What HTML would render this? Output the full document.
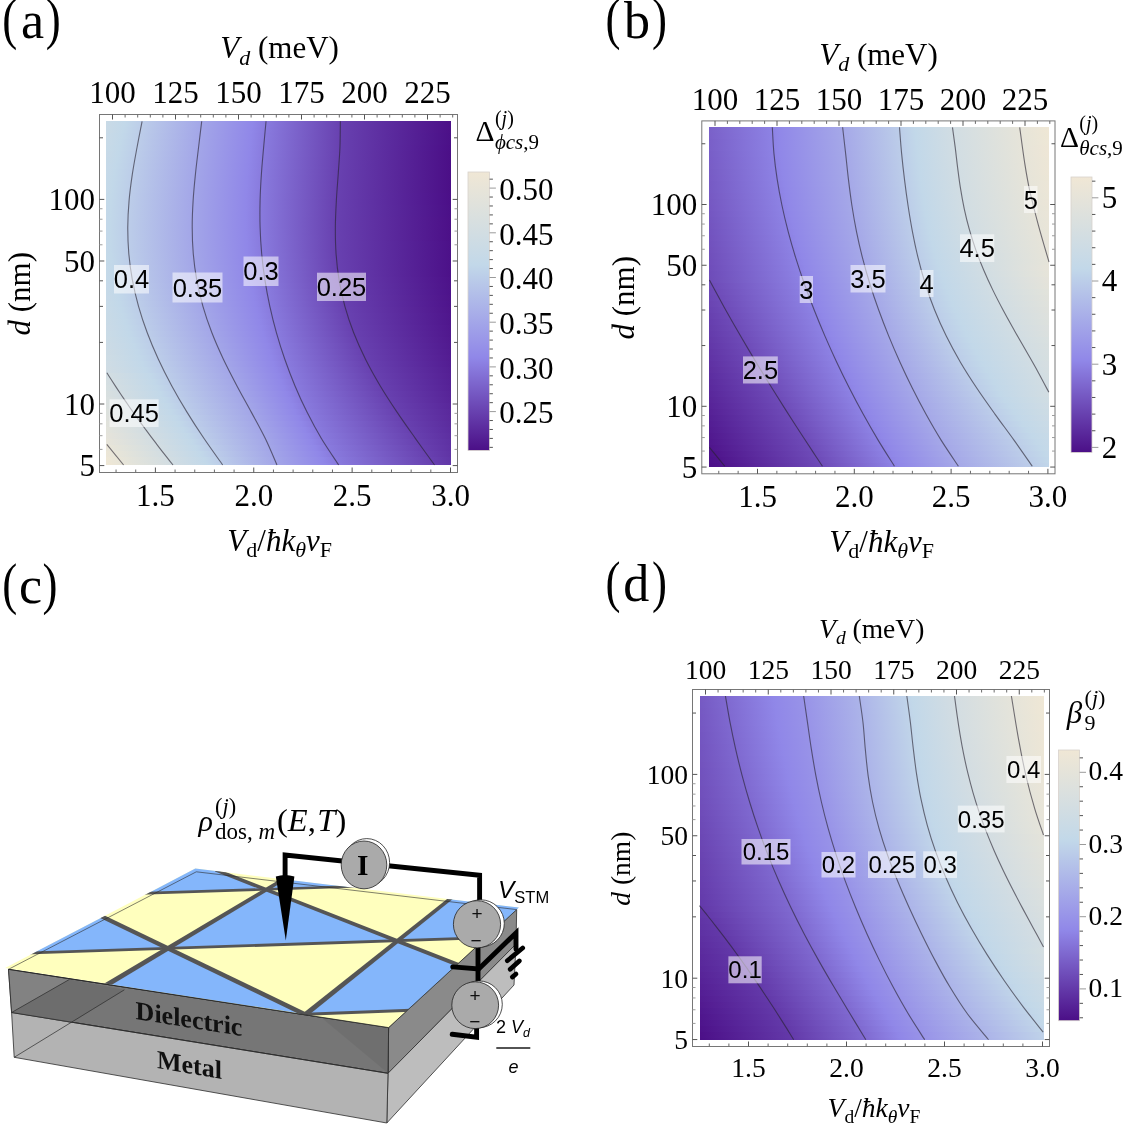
<!DOCTYPE html>
<html><head><meta charset="utf-8"><title>Figure</title>
<style>html,body{margin:0;padding:0;background:#fff}svg{display:block}text{font-family:"Liberation Serif","DejaVu Serif",serif}text.s,.s text{font-family:"Liberation Sans","DejaVu Sans",sans-serif}</style>
</head><body>
<svg width="1125" height="1125" viewBox="0 0 1125 1125">
<defs><linearGradient id="a0"><stop offset="0.000" stop-color="#c9dae6"/><stop offset="0.054" stop-color="#c2d8e9"/><stop offset="0.103" stop-color="#bccde9"/><stop offset="0.277" stop-color="#a3a6e8"/><stop offset="0.425" stop-color="#9087e8"/><stop offset="0.464" stop-color="#897bde"/><stop offset="0.680" stop-color="#6841b0"/><stop offset="1.000" stop-color="#4c1088"/></linearGradient>
<linearGradient id="a1"><stop offset="0.000" stop-color="#c9dae6"/><stop offset="0.050" stop-color="#c2d8e9"/><stop offset="0.100" stop-color="#bccde9"/><stop offset="0.275" stop-color="#a3a6e8"/><stop offset="0.423" stop-color="#9087e8"/><stop offset="0.462" stop-color="#897bde"/><stop offset="0.680" stop-color="#6841b0"/><stop offset="1.000" stop-color="#4c1088"/></linearGradient>
<linearGradient id="a2"><stop offset="0.000" stop-color="#c8dae7"/><stop offset="0.046" stop-color="#c2d8e9"/><stop offset="0.096" stop-color="#bccde9"/><stop offset="0.273" stop-color="#a3a6e8"/><stop offset="0.421" stop-color="#9087e8"/><stop offset="0.460" stop-color="#897bde"/><stop offset="0.680" stop-color="#6841b0"/><stop offset="1.000" stop-color="#4b1088"/></linearGradient>
<linearGradient id="a3"><stop offset="0.000" stop-color="#c8dae7"/><stop offset="0.042" stop-color="#c2d8e9"/><stop offset="0.093" stop-color="#bccde9"/><stop offset="0.270" stop-color="#a3a6e8"/><stop offset="0.420" stop-color="#9087e8"/><stop offset="0.459" stop-color="#897bde"/><stop offset="0.679" stop-color="#6841b0"/><stop offset="1.000" stop-color="#4b1088"/></linearGradient>
<linearGradient id="a4"><stop offset="0.000" stop-color="#c7dae7"/><stop offset="0.039" stop-color="#c2d8e9"/><stop offset="0.090" stop-color="#bccde9"/><stop offset="0.268" stop-color="#a3a6e8"/><stop offset="0.418" stop-color="#9087e8"/><stop offset="0.457" stop-color="#897bde"/><stop offset="0.679" stop-color="#6841b0"/><stop offset="1.000" stop-color="#4b0f88"/></linearGradient>
<linearGradient id="a5"><stop offset="0.000" stop-color="#c7d9e7"/><stop offset="0.035" stop-color="#c2d8e9"/><stop offset="0.086" stop-color="#bccde9"/><stop offset="0.266" stop-color="#a3a6e8"/><stop offset="0.416" stop-color="#9087e8"/><stop offset="0.456" stop-color="#897bde"/><stop offset="0.678" stop-color="#6841b0"/><stop offset="1.000" stop-color="#4b0f87"/></linearGradient>
<linearGradient id="a6"><stop offset="0.000" stop-color="#c6d9e7"/><stop offset="0.032" stop-color="#c2d8e9"/><stop offset="0.083" stop-color="#bccde9"/><stop offset="0.264" stop-color="#a3a6e8"/><stop offset="0.415" stop-color="#9087e8"/><stop offset="0.454" stop-color="#897bde"/><stop offset="0.677" stop-color="#6841b0"/><stop offset="1.000" stop-color="#4b0f87"/></linearGradient>
<linearGradient id="a7"><stop offset="0.000" stop-color="#c6d9e8"/><stop offset="0.029" stop-color="#c2d8e9"/><stop offset="0.080" stop-color="#bccde9"/><stop offset="0.262" stop-color="#a3a6e8"/><stop offset="0.413" stop-color="#9087e8"/><stop offset="0.453" stop-color="#897bde"/><stop offset="0.676" stop-color="#6841b0"/><stop offset="1.000" stop-color="#4b0f87"/></linearGradient>
<linearGradient id="a8"><stop offset="0.000" stop-color="#c6d9e8"/><stop offset="0.025" stop-color="#c2d8e9"/><stop offset="0.077" stop-color="#bccde9"/><stop offset="0.260" stop-color="#a3a6e8"/><stop offset="0.412" stop-color="#9087e8"/><stop offset="0.451" stop-color="#897bde"/><stop offset="0.674" stop-color="#6841b0"/><stop offset="1.000" stop-color="#4b0f87"/></linearGradient>
<linearGradient id="a9"><stop offset="0.000" stop-color="#c5d9e8"/><stop offset="0.023" stop-color="#c2d8e9"/><stop offset="0.075" stop-color="#bccde9"/><stop offset="0.258" stop-color="#a3a6e8"/><stop offset="0.410" stop-color="#9087e8"/><stop offset="0.450" stop-color="#897bde"/><stop offset="0.673" stop-color="#6841b0"/><stop offset="1.000" stop-color="#4b0f87"/></linearGradient>
<linearGradient id="a10"><stop offset="0.000" stop-color="#c5d9e8"/><stop offset="0.020" stop-color="#c2d8e9"/><stop offset="0.073" stop-color="#bccde9"/><stop offset="0.257" stop-color="#a3a6e8"/><stop offset="0.409" stop-color="#9087e8"/><stop offset="0.449" stop-color="#897bde"/><stop offset="0.672" stop-color="#6841b0"/><stop offset="1.000" stop-color="#4b0f87"/></linearGradient>
<linearGradient id="a11"><stop offset="0.000" stop-color="#c5d9e8"/><stop offset="0.018" stop-color="#c2d8e9"/><stop offset="0.071" stop-color="#bccde9"/><stop offset="0.255" stop-color="#a3a6e8"/><stop offset="0.408" stop-color="#9087e8"/><stop offset="0.449" stop-color="#897bde"/><stop offset="0.671" stop-color="#6841b0"/><stop offset="1.000" stop-color="#4b0f87"/></linearGradient>
<linearGradient id="a12"><stop offset="0.000" stop-color="#c4d9e8"/><stop offset="0.016" stop-color="#c2d8e9"/><stop offset="0.068" stop-color="#bccde9"/><stop offset="0.254" stop-color="#a3a6e8"/><stop offset="0.407" stop-color="#9087e8"/><stop offset="0.448" stop-color="#897bde"/><stop offset="0.670" stop-color="#6841b0"/><stop offset="1.000" stop-color="#4b0f88"/></linearGradient>
<linearGradient id="a13"><stop offset="0.000" stop-color="#c4d9e8"/><stop offset="0.014" stop-color="#c2d8e9"/><stop offset="0.067" stop-color="#bccde9"/><stop offset="0.253" stop-color="#a3a6e8"/><stop offset="0.407" stop-color="#9087e8"/><stop offset="0.447" stop-color="#897bde"/><stop offset="0.668" stop-color="#6841b0"/><stop offset="1.000" stop-color="#4b0f88"/></linearGradient>
<linearGradient id="a14"><stop offset="0.000" stop-color="#c4d8e8"/><stop offset="0.013" stop-color="#c2d8e9"/><stop offset="0.066" stop-color="#bccde9"/><stop offset="0.252" stop-color="#a3a6e8"/><stop offset="0.407" stop-color="#9087e8"/><stop offset="0.447" stop-color="#897bde"/><stop offset="0.668" stop-color="#6841b0"/><stop offset="1.000" stop-color="#4b1088"/></linearGradient>
<linearGradient id="a15"><stop offset="0.000" stop-color="#c4d8e8"/><stop offset="0.012" stop-color="#c2d8e9"/><stop offset="0.065" stop-color="#bccde9"/><stop offset="0.251" stop-color="#a3a6e8"/><stop offset="0.406" stop-color="#9087e8"/><stop offset="0.447" stop-color="#897bde"/><stop offset="0.667" stop-color="#6841b0"/><stop offset="1.000" stop-color="#4b1088"/></linearGradient>
<linearGradient id="a16"><stop offset="0.000" stop-color="#c4d8e9"/><stop offset="0.011" stop-color="#c2d8e9"/><stop offset="0.064" stop-color="#bccde9"/><stop offset="0.251" stop-color="#a3a6e8"/><stop offset="0.406" stop-color="#9087e8"/><stop offset="0.447" stop-color="#897bde"/><stop offset="0.666" stop-color="#6841b0"/><stop offset="1.000" stop-color="#4c1088"/></linearGradient>
<linearGradient id="a17"><stop offset="0.000" stop-color="#c4d8e9"/><stop offset="0.010" stop-color="#c2d8e9"/><stop offset="0.063" stop-color="#bccde9"/><stop offset="0.250" stop-color="#a3a6e8"/><stop offset="0.406" stop-color="#9087e8"/><stop offset="0.447" stop-color="#897bde"/><stop offset="0.666" stop-color="#6841b0"/><stop offset="1.000" stop-color="#4c1088"/></linearGradient>
<linearGradient id="a18"><stop offset="0.000" stop-color="#c4d8e9"/><stop offset="0.010" stop-color="#c2d8e9"/><stop offset="0.063" stop-color="#bccde9"/><stop offset="0.251" stop-color="#a3a6e8"/><stop offset="0.407" stop-color="#9087e8"/><stop offset="0.448" stop-color="#897bde"/><stop offset="0.666" stop-color="#6841b0"/><stop offset="1.000" stop-color="#4c1088"/></linearGradient>
<linearGradient id="a19"><stop offset="0.000" stop-color="#c4d8e9"/><stop offset="0.011" stop-color="#c2d8e9"/><stop offset="0.064" stop-color="#bccde9"/><stop offset="0.251" stop-color="#a3a6e8"/><stop offset="0.408" stop-color="#9087e8"/><stop offset="0.449" stop-color="#897bde"/><stop offset="0.667" stop-color="#6841b0"/><stop offset="1.000" stop-color="#4c1088"/></linearGradient>
<linearGradient id="a20"><stop offset="0.000" stop-color="#c4d8e8"/><stop offset="0.012" stop-color="#c2d8e9"/><stop offset="0.065" stop-color="#bccde9"/><stop offset="0.252" stop-color="#a3a6e8"/><stop offset="0.409" stop-color="#9087e8"/><stop offset="0.450" stop-color="#897bde"/><stop offset="0.667" stop-color="#6841b0"/><stop offset="1.000" stop-color="#4c1189"/></linearGradient>
<linearGradient id="a21"><stop offset="0.000" stop-color="#c4d8e8"/><stop offset="0.012" stop-color="#c2d8e9"/><stop offset="0.065" stop-color="#bccde9"/><stop offset="0.253" stop-color="#a3a6e8"/><stop offset="0.410" stop-color="#9087e8"/><stop offset="0.451" stop-color="#897bde"/><stop offset="0.667" stop-color="#6841b0"/><stop offset="1.000" stop-color="#4c1189"/></linearGradient>
<linearGradient id="a22"><stop offset="0.000" stop-color="#c4d9e8"/><stop offset="0.014" stop-color="#c2d8e9"/><stop offset="0.067" stop-color="#bccde9"/><stop offset="0.254" stop-color="#a3a6e8"/><stop offset="0.411" stop-color="#9087e8"/><stop offset="0.453" stop-color="#897bde"/><stop offset="0.668" stop-color="#6841b0"/><stop offset="1.000" stop-color="#4c1189"/></linearGradient>
<linearGradient id="a23"><stop offset="0.000" stop-color="#c4d9e8"/><stop offset="0.016" stop-color="#c2d8e9"/><stop offset="0.069" stop-color="#bccde9"/><stop offset="0.256" stop-color="#a3a6e8"/><stop offset="0.413" stop-color="#9087e8"/><stop offset="0.455" stop-color="#897bde"/><stop offset="0.670" stop-color="#6841b0"/><stop offset="1.000" stop-color="#4c1189"/></linearGradient>
<linearGradient id="a24"><stop offset="0.000" stop-color="#c5d9e8"/><stop offset="0.018" stop-color="#c2d8e9"/><stop offset="0.072" stop-color="#bccde9"/><stop offset="0.259" stop-color="#a3a6e8"/><stop offset="0.416" stop-color="#9087e8"/><stop offset="0.457" stop-color="#897bde"/><stop offset="0.672" stop-color="#6841b0"/><stop offset="1.000" stop-color="#4c1189"/></linearGradient>
<linearGradient id="a25"><stop offset="0.000" stop-color="#c5d9e8"/><stop offset="0.021" stop-color="#c2d8e9"/><stop offset="0.074" stop-color="#bccde9"/><stop offset="0.261" stop-color="#a3a6e8"/><stop offset="0.418" stop-color="#9087e8"/><stop offset="0.459" stop-color="#897bde"/><stop offset="0.674" stop-color="#6841b0"/><stop offset="1.000" stop-color="#4c1189"/></linearGradient>
<linearGradient id="a26"><stop offset="0.000" stop-color="#c5d9e8"/><stop offset="0.023" stop-color="#c2d8e9"/><stop offset="0.076" stop-color="#bccde9"/><stop offset="0.263" stop-color="#a3a6e8"/><stop offset="0.420" stop-color="#9087e8"/><stop offset="0.461" stop-color="#897bde"/><stop offset="0.676" stop-color="#6841b0"/><stop offset="1.000" stop-color="#4d128a"/></linearGradient>
<linearGradient id="a27"><stop offset="0.000" stop-color="#c6d9e8"/><stop offset="0.027" stop-color="#c2d8e9"/><stop offset="0.080" stop-color="#bccde9"/><stop offset="0.267" stop-color="#a3a6e8"/><stop offset="0.423" stop-color="#9087e8"/><stop offset="0.464" stop-color="#897bde"/><stop offset="0.680" stop-color="#6841b0"/><stop offset="1.000" stop-color="#4d138a"/></linearGradient>
<linearGradient id="a28"><stop offset="0.000" stop-color="#c6d9e7"/><stop offset="0.031" stop-color="#c2d8e9"/><stop offset="0.084" stop-color="#bccde9"/><stop offset="0.271" stop-color="#a3a6e8"/><stop offset="0.427" stop-color="#9087e8"/><stop offset="0.468" stop-color="#897bde"/><stop offset="0.684" stop-color="#6841b0"/><stop offset="1.000" stop-color="#4d138b"/></linearGradient>
<linearGradient id="a29"><stop offset="0.000" stop-color="#c7d9e7"/><stop offset="0.035" stop-color="#c2d8e9"/><stop offset="0.088" stop-color="#bccde9"/><stop offset="0.275" stop-color="#a3a6e8"/><stop offset="0.430" stop-color="#9087e8"/><stop offset="0.471" stop-color="#897bde"/><stop offset="0.688" stop-color="#6841b0"/><stop offset="1.000" stop-color="#4e148b"/></linearGradient>
<linearGradient id="a30"><stop offset="0.000" stop-color="#c7dae7"/><stop offset="0.039" stop-color="#c2d8e9"/><stop offset="0.093" stop-color="#bccde9"/><stop offset="0.279" stop-color="#a3a6e8"/><stop offset="0.434" stop-color="#9087e8"/><stop offset="0.474" stop-color="#897bde"/><stop offset="0.692" stop-color="#6841b0"/><stop offset="1.000" stop-color="#4e148c"/></linearGradient>
<linearGradient id="a31"><stop offset="0.000" stop-color="#c8dae7"/><stop offset="0.044" stop-color="#c2d8e9"/><stop offset="0.098" stop-color="#bccde9"/><stop offset="0.285" stop-color="#a3a6e8"/><stop offset="0.438" stop-color="#9087e8"/><stop offset="0.478" stop-color="#897bde"/><stop offset="0.697" stop-color="#6841b0"/><stop offset="1.000" stop-color="#4f158c"/></linearGradient>
<linearGradient id="a32"><stop offset="0.000" stop-color="#c8dae6"/><stop offset="0.050" stop-color="#c2d8e9"/><stop offset="0.103" stop-color="#bccde9"/><stop offset="0.291" stop-color="#a3a6e8"/><stop offset="0.442" stop-color="#9087e8"/><stop offset="0.482" stop-color="#897bde"/><stop offset="0.703" stop-color="#6841b0"/><stop offset="1.000" stop-color="#4f168d"/></linearGradient>
<linearGradient id="a33"><stop offset="0.000" stop-color="#c9dae6"/><stop offset="0.056" stop-color="#c2d8e9"/><stop offset="0.109" stop-color="#bccde9"/><stop offset="0.296" stop-color="#a3a6e8"/><stop offset="0.447" stop-color="#9087e8"/><stop offset="0.487" stop-color="#897bde"/><stop offset="0.708" stop-color="#6841b0"/><stop offset="1.000" stop-color="#4f168d"/></linearGradient>
<linearGradient id="a34"><stop offset="0.000" stop-color="#cadae6"/><stop offset="0.062" stop-color="#c2d8e9"/><stop offset="0.115" stop-color="#bccde9"/><stop offset="0.302" stop-color="#a3a6e8"/><stop offset="0.452" stop-color="#9087e8"/><stop offset="0.491" stop-color="#897bde"/><stop offset="0.714" stop-color="#6841b0"/><stop offset="1.000" stop-color="#50178e"/></linearGradient>
<linearGradient id="a35"><stop offset="0.000" stop-color="#cadbe6"/><stop offset="0.067" stop-color="#c2d8e9"/><stop offset="0.121" stop-color="#bccde9"/><stop offset="0.309" stop-color="#a3a6e8"/><stop offset="0.457" stop-color="#9087e8"/><stop offset="0.496" stop-color="#897bde"/><stop offset="0.720" stop-color="#6841b0"/><stop offset="1.000" stop-color="#50188e"/></linearGradient>
<linearGradient id="a36"><stop offset="0.000" stop-color="#cbdbe5"/><stop offset="0.075" stop-color="#c2d8e9"/><stop offset="0.128" stop-color="#bccde9"/><stop offset="0.316" stop-color="#a3a6e8"/><stop offset="0.463" stop-color="#9087e8"/><stop offset="0.501" stop-color="#897bde"/><stop offset="0.728" stop-color="#6841b0"/><stop offset="1.000" stop-color="#51198f"/></linearGradient>
<linearGradient id="a37"><stop offset="0.000" stop-color="#ccdbe5"/><stop offset="0.082" stop-color="#c2d8e9"/><stop offset="0.135" stop-color="#bccde9"/><stop offset="0.324" stop-color="#a3a6e8"/><stop offset="0.469" stop-color="#9087e8"/><stop offset="0.507" stop-color="#897bde"/><stop offset="0.736" stop-color="#6841b0"/><stop offset="1.000" stop-color="#511a90"/></linearGradient>
<linearGradient id="a38"><stop offset="0.000" stop-color="#cddbe4"/><stop offset="0.089" stop-color="#c2d8e9"/><stop offset="0.143" stop-color="#bccde9"/><stop offset="0.331" stop-color="#a3a6e8"/><stop offset="0.475" stop-color="#9087e8"/><stop offset="0.512" stop-color="#897bde"/><stop offset="0.744" stop-color="#6841b0"/><stop offset="1.000" stop-color="#521b91"/></linearGradient>
<linearGradient id="a39"><stop offset="0.000" stop-color="#cedce4"/><stop offset="0.096" stop-color="#c2d8e9"/><stop offset="0.150" stop-color="#bccde9"/><stop offset="0.339" stop-color="#a3a6e8"/><stop offset="0.480" stop-color="#9087e8"/><stop offset="0.518" stop-color="#897bde"/><stop offset="0.751" stop-color="#6841b0"/><stop offset="1.000" stop-color="#531c92"/></linearGradient>
<linearGradient id="a40"><stop offset="0.000" stop-color="#cfdce4"/><stop offset="0.105" stop-color="#c2d8e9"/><stop offset="0.159" stop-color="#bccde9"/><stop offset="0.347" stop-color="#a3a6e8"/><stop offset="0.487" stop-color="#9087e8"/><stop offset="0.524" stop-color="#897bde"/><stop offset="0.761" stop-color="#6841b0"/><stop offset="1.000" stop-color="#531d93"/></linearGradient>
<linearGradient id="a41"><stop offset="0.000" stop-color="#d0dce3"/><stop offset="0.114" stop-color="#c2d8e9"/><stop offset="0.167" stop-color="#bccde9"/><stop offset="0.356" stop-color="#a3a6e8"/><stop offset="0.494" stop-color="#9087e8"/><stop offset="0.531" stop-color="#897bde"/><stop offset="0.770" stop-color="#6841b0"/><stop offset="1.000" stop-color="#541f94"/></linearGradient>
<linearGradient id="a42"><stop offset="0.000" stop-color="#d3dee2"/><stop offset="0.008" stop-color="#d2dde2"/><stop offset="0.128" stop-color="#c2d8e9"/><stop offset="0.176" stop-color="#bccde9"/><stop offset="0.365" stop-color="#a3a6e8"/><stop offset="0.502" stop-color="#9087e8"/><stop offset="0.537" stop-color="#897bde"/><stop offset="0.780" stop-color="#6841b0"/><stop offset="1.000" stop-color="#552095"/></linearGradient>
<linearGradient id="a43"><stop offset="0.000" stop-color="#d5dee1"/><stop offset="0.019" stop-color="#d2dde2"/><stop offset="0.138" stop-color="#c2d8e9"/><stop offset="0.185" stop-color="#bccde9"/><stop offset="0.374" stop-color="#a3a6e8"/><stop offset="0.509" stop-color="#9087e8"/><stop offset="0.544" stop-color="#897bde"/><stop offset="0.790" stop-color="#6841b0"/><stop offset="1.000" stop-color="#552196"/></linearGradient>
<linearGradient id="a44"><stop offset="0.000" stop-color="#d6dfe0"/><stop offset="0.030" stop-color="#d2dde2"/><stop offset="0.148" stop-color="#c2d8e9"/><stop offset="0.194" stop-color="#bccde9"/><stop offset="0.383" stop-color="#a3a6e8"/><stop offset="0.516" stop-color="#9087e8"/><stop offset="0.551" stop-color="#897bde"/><stop offset="0.800" stop-color="#6841b0"/><stop offset="1.000" stop-color="#562297"/></linearGradient>
<linearGradient id="a45"><stop offset="0.000" stop-color="#d8dfdf"/><stop offset="0.042" stop-color="#d2dde2"/><stop offset="0.158" stop-color="#c2d8e9"/><stop offset="0.204" stop-color="#bccde9"/><stop offset="0.393" stop-color="#a3a6e8"/><stop offset="0.525" stop-color="#9087e8"/><stop offset="0.559" stop-color="#897bde"/><stop offset="0.811" stop-color="#6841b0"/><stop offset="1.000" stop-color="#572498"/></linearGradient>
<linearGradient id="a46"><stop offset="0.000" stop-color="#dae0df"/><stop offset="0.054" stop-color="#d2dde2"/><stop offset="0.169" stop-color="#c2d8e9"/><stop offset="0.214" stop-color="#bccde9"/><stop offset="0.402" stop-color="#a3a6e8"/><stop offset="0.533" stop-color="#9087e8"/><stop offset="0.567" stop-color="#897bde"/><stop offset="0.822" stop-color="#6841b0"/><stop offset="1.000" stop-color="#582599"/></linearGradient>
<linearGradient id="a47"><stop offset="0.000" stop-color="#dbe0de"/><stop offset="0.066" stop-color="#d2dde2"/><stop offset="0.179" stop-color="#c2d8e9"/><stop offset="0.224" stop-color="#bccde9"/><stop offset="0.412" stop-color="#a3a6e8"/><stop offset="0.541" stop-color="#9087e8"/><stop offset="0.575" stop-color="#897bde"/><stop offset="0.833" stop-color="#6841b0"/><stop offset="1.000" stop-color="#59279b"/></linearGradient>
<linearGradient id="a48"><stop offset="0.000" stop-color="#dde1dd"/><stop offset="0.078" stop-color="#d2dde2"/><stop offset="0.190" stop-color="#c2d8e9"/><stop offset="0.234" stop-color="#bccde9"/><stop offset="0.421" stop-color="#a3a6e8"/><stop offset="0.549" stop-color="#9087e8"/><stop offset="0.583" stop-color="#897bde"/><stop offset="0.844" stop-color="#6841b0"/><stop offset="1.000" stop-color="#5a299c"/></linearGradient>
<linearGradient id="a49"><stop offset="0.000" stop-color="#dfe1dc"/><stop offset="0.090" stop-color="#d2dde2"/><stop offset="0.202" stop-color="#c2d8e9"/><stop offset="0.246" stop-color="#bccde9"/><stop offset="0.430" stop-color="#a3a6e8"/><stop offset="0.559" stop-color="#9087e8"/><stop offset="0.592" stop-color="#897bde"/><stop offset="0.856" stop-color="#6841b0"/><stop offset="1.000" stop-color="#5b2a9d"/></linearGradient>
<linearGradient id="a50"><stop offset="0.000" stop-color="#e1e2db"/><stop offset="0.103" stop-color="#d2dde2"/><stop offset="0.213" stop-color="#c2d8e9"/><stop offset="0.257" stop-color="#bccde9"/><stop offset="0.440" stop-color="#a3a6e8"/><stop offset="0.568" stop-color="#9087e8"/><stop offset="0.602" stop-color="#897bde"/><stop offset="0.869" stop-color="#6841b0"/><stop offset="1.000" stop-color="#5b2c9e"/></linearGradient>
<linearGradient id="a51"><stop offset="0.000" stop-color="#e3e3db"/><stop offset="0.116" stop-color="#d2dde2"/><stop offset="0.225" stop-color="#c2d8e9"/><stop offset="0.268" stop-color="#bccde9"/><stop offset="0.449" stop-color="#a3a6e8"/><stop offset="0.578" stop-color="#9087e8"/><stop offset="0.611" stop-color="#897bde"/><stop offset="0.881" stop-color="#6841b0"/><stop offset="1.000" stop-color="#5c2da0"/></linearGradient>
<linearGradient id="a52"><stop offset="0.000" stop-color="#e5e3da"/><stop offset="0.129" stop-color="#d2dde2"/><stop offset="0.237" stop-color="#c2d8e9"/><stop offset="0.279" stop-color="#bccde9"/><stop offset="0.458" stop-color="#a3a6e8"/><stop offset="0.587" stop-color="#9087e8"/><stop offset="0.621" stop-color="#897bde"/><stop offset="0.893" stop-color="#6841b0"/><stop offset="1.000" stop-color="#5d2fa1"/></linearGradient>
<linearGradient id="a53"><stop offset="0.000" stop-color="#e7e4d9"/><stop offset="0.142" stop-color="#d2dde2"/><stop offset="0.249" stop-color="#c2d8e9"/><stop offset="0.291" stop-color="#bccde9"/><stop offset="0.467" stop-color="#a3a6e8"/><stop offset="0.597" stop-color="#9087e8"/><stop offset="0.631" stop-color="#897bde"/><stop offset="0.905" stop-color="#6841b0"/><stop offset="1.000" stop-color="#5e31a3"/></linearGradient>
<linearGradient id="a54"><stop offset="0.000" stop-color="#eae5d8"/><stop offset="0.010" stop-color="#e8e5d8"/><stop offset="0.155" stop-color="#d2dde2"/><stop offset="0.261" stop-color="#c2d8e9"/><stop offset="0.304" stop-color="#bccde9"/><stop offset="0.474" stop-color="#a3a6e8"/><stop offset="0.608" stop-color="#9087e8"/><stop offset="0.643" stop-color="#897bde"/><stop offset="0.918" stop-color="#6841b0"/><stop offset="1.000" stop-color="#5f32a4"/></linearGradient>
<linearGradient id="a55"><stop offset="0.000" stop-color="#ece6d7"/><stop offset="0.025" stop-color="#e8e5d8"/><stop offset="0.169" stop-color="#d2dde2"/><stop offset="0.274" stop-color="#c2d8e9"/><stop offset="0.316" stop-color="#bccde9"/><stop offset="0.482" stop-color="#a3a6e8"/><stop offset="0.618" stop-color="#9087e8"/><stop offset="0.654" stop-color="#897bde"/><stop offset="0.930" stop-color="#6841b0"/><stop offset="1.000" stop-color="#6034a5"/></linearGradient>
<linearGradient id="a56"><stop offset="0.000" stop-color="#eee7d6"/><stop offset="0.039" stop-color="#e8e5d8"/><stop offset="0.183" stop-color="#d2dde2"/><stop offset="0.287" stop-color="#c2d8e9"/><stop offset="0.328" stop-color="#bccde9"/><stop offset="0.490" stop-color="#a3a6e8"/><stop offset="0.629" stop-color="#9087e8"/><stop offset="0.666" stop-color="#897bde"/><stop offset="0.943" stop-color="#6841b0"/><stop offset="1.000" stop-color="#6136a7"/></linearGradient>
<linearGradient id="a57"><stop offset="0.000" stop-color="#efe7d5"/><stop offset="0.048" stop-color="#e8e5d8"/><stop offset="0.191" stop-color="#d2dde2"/><stop offset="0.295" stop-color="#c2d8e9"/><stop offset="0.336" stop-color="#bccde9"/><stop offset="0.495" stop-color="#a3a6e8"/><stop offset="0.636" stop-color="#9087e8"/><stop offset="0.673" stop-color="#897bde"/><stop offset="0.951" stop-color="#6841b0"/><stop offset="1.000" stop-color="#6237a8"/></linearGradient>
<linearGradient id="acb" x1="0" y1="1" x2="0" y2="0"><stop offset="0.0000" stop-color="#4b0f87"/><stop offset="0.3333" stop-color="#9087e8"/><stop offset="0.6667" stop-color="#c2d8e9"/><stop offset="1.0000" stop-color="#f0e7d5"/></linearGradient>
<linearGradient id="b0"><stop offset="0.000" stop-color="#7a61c9"/><stop offset="0.186" stop-color="#8d82e4"/><stop offset="0.204" stop-color="#9087e8"/><stop offset="0.393" stop-color="#a5a8e8"/><stop offset="0.560" stop-color="#bccde9"/><stop offset="0.606" stop-color="#c2d8e9"/><stop offset="0.717" stop-color="#d1dde3"/><stop offset="0.915" stop-color="#e6e4d9"/><stop offset="1.000" stop-color="#efe7d5"/></linearGradient>
<linearGradient id="b1"><stop offset="0.000" stop-color="#7a60c9"/><stop offset="0.187" stop-color="#8d82e4"/><stop offset="0.205" stop-color="#9087e8"/><stop offset="0.395" stop-color="#a5a8e8"/><stop offset="0.562" stop-color="#bccde9"/><stop offset="0.608" stop-color="#c2d8e9"/><stop offset="0.719" stop-color="#d1dde3"/><stop offset="0.917" stop-color="#e6e4d9"/><stop offset="1.000" stop-color="#eee7d5"/></linearGradient>
<linearGradient id="b2"><stop offset="0.000" stop-color="#795fc8"/><stop offset="0.188" stop-color="#8d82e4"/><stop offset="0.206" stop-color="#9087e8"/><stop offset="0.397" stop-color="#a5a8e8"/><stop offset="0.563" stop-color="#bccde9"/><stop offset="0.610" stop-color="#c2d8e9"/><stop offset="0.722" stop-color="#d1dde3"/><stop offset="0.920" stop-color="#e6e4d9"/><stop offset="1.000" stop-color="#eee7d6"/></linearGradient>
<linearGradient id="b3"><stop offset="0.000" stop-color="#795fc8"/><stop offset="0.189" stop-color="#8d82e4"/><stop offset="0.207" stop-color="#9087e8"/><stop offset="0.399" stop-color="#a5a8e8"/><stop offset="0.565" stop-color="#bccde9"/><stop offset="0.612" stop-color="#c2d8e9"/><stop offset="0.724" stop-color="#d1dde3"/><stop offset="0.922" stop-color="#e6e4d9"/><stop offset="1.000" stop-color="#eee6d6"/></linearGradient>
<linearGradient id="b4"><stop offset="0.000" stop-color="#785ec7"/><stop offset="0.190" stop-color="#8d82e4"/><stop offset="0.209" stop-color="#9087e8"/><stop offset="0.401" stop-color="#a5a8e8"/><stop offset="0.566" stop-color="#bccde9"/><stop offset="0.613" stop-color="#c2d8e9"/><stop offset="0.726" stop-color="#d1dde3"/><stop offset="0.925" stop-color="#e6e4d9"/><stop offset="1.000" stop-color="#eee6d6"/></linearGradient>
<linearGradient id="b5"><stop offset="0.000" stop-color="#785dc7"/><stop offset="0.193" stop-color="#8d82e4"/><stop offset="0.211" stop-color="#9087e8"/><stop offset="0.403" stop-color="#a5a8e8"/><stop offset="0.568" stop-color="#bccde9"/><stop offset="0.615" stop-color="#c2d8e9"/><stop offset="0.728" stop-color="#d1dde3"/><stop offset="0.927" stop-color="#e6e4d9"/><stop offset="1.000" stop-color="#ede6d6"/></linearGradient>
<linearGradient id="b6"><stop offset="0.000" stop-color="#785dc6"/><stop offset="0.195" stop-color="#8d82e4"/><stop offset="0.213" stop-color="#9087e8"/><stop offset="0.405" stop-color="#a5a8e8"/><stop offset="0.570" stop-color="#bccde9"/><stop offset="0.617" stop-color="#c2d8e9"/><stop offset="0.730" stop-color="#d1dde3"/><stop offset="0.930" stop-color="#e6e4d9"/><stop offset="1.000" stop-color="#ede6d6"/></linearGradient>
<linearGradient id="b7"><stop offset="0.000" stop-color="#775cc5"/><stop offset="0.197" stop-color="#8d82e4"/><stop offset="0.215" stop-color="#9087e8"/><stop offset="0.407" stop-color="#a5a8e8"/><stop offset="0.572" stop-color="#bccde9"/><stop offset="0.619" stop-color="#c2d8e9"/><stop offset="0.733" stop-color="#d1dde3"/><stop offset="0.933" stop-color="#e6e4d9"/><stop offset="1.000" stop-color="#ede6d6"/></linearGradient>
<linearGradient id="b8"><stop offset="0.000" stop-color="#775bc5"/><stop offset="0.199" stop-color="#8d82e4"/><stop offset="0.217" stop-color="#9087e8"/><stop offset="0.409" stop-color="#a5a8e8"/><stop offset="0.574" stop-color="#bccde9"/><stop offset="0.621" stop-color="#c2d8e9"/><stop offset="0.735" stop-color="#d1dde3"/><stop offset="0.936" stop-color="#e6e4d9"/><stop offset="1.000" stop-color="#ece6d6"/></linearGradient>
<linearGradient id="b9"><stop offset="0.000" stop-color="#765ac4"/><stop offset="0.202" stop-color="#8d82e4"/><stop offset="0.220" stop-color="#9087e8"/><stop offset="0.411" stop-color="#a5a8e8"/><stop offset="0.576" stop-color="#bccde9"/><stop offset="0.624" stop-color="#c2d8e9"/><stop offset="0.738" stop-color="#d1dde3"/><stop offset="0.940" stop-color="#e6e4d9"/><stop offset="1.000" stop-color="#ece6d7"/></linearGradient>
<linearGradient id="b10"><stop offset="0.000" stop-color="#765ac4"/><stop offset="0.206" stop-color="#8d82e4"/><stop offset="0.224" stop-color="#9087e8"/><stop offset="0.414" stop-color="#a5a8e8"/><stop offset="0.579" stop-color="#bccde9"/><stop offset="0.626" stop-color="#c2d8e9"/><stop offset="0.740" stop-color="#d1dde3"/><stop offset="0.943" stop-color="#e6e4d9"/><stop offset="1.000" stop-color="#ece6d7"/></linearGradient>
<linearGradient id="b11"><stop offset="0.000" stop-color="#7659c3"/><stop offset="0.209" stop-color="#8d82e4"/><stop offset="0.227" stop-color="#9087e8"/><stop offset="0.416" stop-color="#a5a8e8"/><stop offset="0.581" stop-color="#bccde9"/><stop offset="0.629" stop-color="#c2d8e9"/><stop offset="0.744" stop-color="#d1dde3"/><stop offset="0.947" stop-color="#e6e4d9"/><stop offset="1.000" stop-color="#ebe6d7"/></linearGradient>
<linearGradient id="b12"><stop offset="0.000" stop-color="#7558c2"/><stop offset="0.212" stop-color="#8d82e4"/><stop offset="0.230" stop-color="#9087e8"/><stop offset="0.418" stop-color="#a5a8e8"/><stop offset="0.584" stop-color="#bccde9"/><stop offset="0.631" stop-color="#c2d8e9"/><stop offset="0.747" stop-color="#d1dde3"/><stop offset="0.952" stop-color="#e6e4d9"/><stop offset="1.000" stop-color="#ebe5d7"/></linearGradient>
<linearGradient id="b13"><stop offset="0.000" stop-color="#7557c2"/><stop offset="0.216" stop-color="#8d82e4"/><stop offset="0.233" stop-color="#9087e8"/><stop offset="0.421" stop-color="#a5a8e8"/><stop offset="0.586" stop-color="#bccde9"/><stop offset="0.634" stop-color="#c2d8e9"/><stop offset="0.750" stop-color="#d1dde3"/><stop offset="0.956" stop-color="#e6e4d9"/><stop offset="1.000" stop-color="#eae5d7"/></linearGradient>
<linearGradient id="b14"><stop offset="0.000" stop-color="#7456c1"/><stop offset="0.220" stop-color="#8d82e4"/><stop offset="0.238" stop-color="#9087e8"/><stop offset="0.424" stop-color="#a5a8e8"/><stop offset="0.589" stop-color="#bccde9"/><stop offset="0.638" stop-color="#c2d8e9"/><stop offset="0.754" stop-color="#d1dde3"/><stop offset="0.960" stop-color="#e6e4d9"/><stop offset="1.000" stop-color="#eae5d8"/></linearGradient>
<linearGradient id="b15"><stop offset="0.000" stop-color="#7355c0"/><stop offset="0.224" stop-color="#8d82e4"/><stop offset="0.242" stop-color="#9087e8"/><stop offset="0.427" stop-color="#a5a8e8"/><stop offset="0.592" stop-color="#bccde9"/><stop offset="0.641" stop-color="#c2d8e9"/><stop offset="0.759" stop-color="#d1dde3"/><stop offset="0.965" stop-color="#e6e4d9"/><stop offset="1.000" stop-color="#e9e5d8"/></linearGradient>
<linearGradient id="b16"><stop offset="0.000" stop-color="#7354bf"/><stop offset="0.228" stop-color="#8d82e4"/><stop offset="0.246" stop-color="#9087e8"/><stop offset="0.430" stop-color="#a5a8e8"/><stop offset="0.595" stop-color="#bccde9"/><stop offset="0.644" stop-color="#c2d8e9"/><stop offset="0.763" stop-color="#d1dde3"/><stop offset="0.969" stop-color="#e6e4d9"/><stop offset="1.000" stop-color="#e9e5d8"/></linearGradient>
<linearGradient id="b17"><stop offset="0.000" stop-color="#7253bf"/><stop offset="0.232" stop-color="#8d82e4"/><stop offset="0.250" stop-color="#9087e8"/><stop offset="0.434" stop-color="#a5a8e8"/><stop offset="0.598" stop-color="#bccde9"/><stop offset="0.648" stop-color="#c2d8e9"/><stop offset="0.768" stop-color="#d1dde3"/><stop offset="0.974" stop-color="#e6e4d9"/><stop offset="1.000" stop-color="#e8e5d8"/></linearGradient>
<linearGradient id="b18"><stop offset="0.000" stop-color="#7252be"/><stop offset="0.238" stop-color="#8d82e4"/><stop offset="0.255" stop-color="#9087e8"/><stop offset="0.438" stop-color="#a5a8e8"/><stop offset="0.602" stop-color="#bccde9"/><stop offset="0.652" stop-color="#c2d8e9"/><stop offset="0.773" stop-color="#d1dde3"/><stop offset="0.980" stop-color="#e6e4d9"/><stop offset="1.000" stop-color="#e8e4d8"/></linearGradient>
<linearGradient id="b19"><stop offset="0.000" stop-color="#7151bd"/><stop offset="0.243" stop-color="#8d82e4"/><stop offset="0.260" stop-color="#9087e8"/><stop offset="0.442" stop-color="#a5a8e8"/><stop offset="0.606" stop-color="#bccde9"/><stop offset="0.657" stop-color="#c2d8e9"/><stop offset="0.779" stop-color="#d1dde3"/><stop offset="0.985" stop-color="#e6e4d9"/><stop offset="1.000" stop-color="#e7e4d9"/></linearGradient>
<linearGradient id="b20"><stop offset="0.000" stop-color="#7150bc"/><stop offset="0.248" stop-color="#8d82e4"/><stop offset="0.265" stop-color="#9087e8"/><stop offset="0.446" stop-color="#a5a8e8"/><stop offset="0.610" stop-color="#bccde9"/><stop offset="0.661" stop-color="#c2d8e9"/><stop offset="0.785" stop-color="#d1dde3"/><stop offset="0.990" stop-color="#e6e4d9"/><stop offset="1.000" stop-color="#e7e4d9"/></linearGradient>
<linearGradient id="b21"><stop offset="0.000" stop-color="#704fbb"/><stop offset="0.253" stop-color="#8d82e4"/><stop offset="0.270" stop-color="#9087e8"/><stop offset="0.450" stop-color="#a5a8e8"/><stop offset="0.613" stop-color="#bccde9"/><stop offset="0.666" stop-color="#c2d8e9"/><stop offset="0.792" stop-color="#d1dde3"/><stop offset="0.995" stop-color="#e6e4d9"/><stop offset="1.000" stop-color="#e6e4d9"/></linearGradient>
<linearGradient id="b22"><stop offset="0.000" stop-color="#704ebb"/><stop offset="0.258" stop-color="#8d82e4"/><stop offset="0.275" stop-color="#9087e8"/><stop offset="0.454" stop-color="#a5a8e8"/><stop offset="0.618" stop-color="#bccde9"/><stop offset="0.671" stop-color="#c2d8e9"/><stop offset="0.798" stop-color="#d1dde3"/><stop offset="1.000" stop-color="#e6e4d9"/><stop offset="1.000" stop-color="#e6e4d9"/></linearGradient>
<linearGradient id="b23"><stop offset="0.000" stop-color="#6f4dba"/><stop offset="0.264" stop-color="#8d82e4"/><stop offset="0.281" stop-color="#9087e8"/><stop offset="0.459" stop-color="#a5a8e8"/><stop offset="0.623" stop-color="#bccde9"/><stop offset="0.676" stop-color="#c2d8e9"/><stop offset="0.805" stop-color="#d1dde3"/><stop offset="1.000" stop-color="#e7e4d9"/></linearGradient>
<linearGradient id="b24"><stop offset="0.000" stop-color="#6e4cb9"/><stop offset="0.270" stop-color="#8d82e4"/><stop offset="0.287" stop-color="#9087e8"/><stop offset="0.464" stop-color="#a5a8e8"/><stop offset="0.628" stop-color="#bccde9"/><stop offset="0.682" stop-color="#c2d8e9"/><stop offset="0.813" stop-color="#d1dde3"/><stop offset="1.000" stop-color="#e6e4d9"/></linearGradient>
<linearGradient id="b25"><stop offset="0.000" stop-color="#6e4cb8"/><stop offset="0.276" stop-color="#8d82e4"/><stop offset="0.293" stop-color="#9087e8"/><stop offset="0.469" stop-color="#a5a8e8"/><stop offset="0.633" stop-color="#bccde9"/><stop offset="0.688" stop-color="#c2d8e9"/><stop offset="0.821" stop-color="#d1dde3"/><stop offset="1.000" stop-color="#e5e3da"/></linearGradient>
<linearGradient id="b26"><stop offset="0.000" stop-color="#6d4ab7"/><stop offset="0.010" stop-color="#6e4bb8"/><stop offset="0.282" stop-color="#8d82e4"/><stop offset="0.299" stop-color="#9087e8"/><stop offset="0.475" stop-color="#a5a8e8"/><stop offset="0.638" stop-color="#bccde9"/><stop offset="0.694" stop-color="#c2d8e9"/><stop offset="0.829" stop-color="#d1dde3"/><stop offset="1.000" stop-color="#e4e3da"/></linearGradient>
<linearGradient id="b27"><stop offset="0.000" stop-color="#6c48b5"/><stop offset="0.019" stop-color="#6e4bb8"/><stop offset="0.289" stop-color="#8d82e4"/><stop offset="0.305" stop-color="#9087e8"/><stop offset="0.481" stop-color="#a5a8e8"/><stop offset="0.644" stop-color="#bccde9"/><stop offset="0.701" stop-color="#c2d8e9"/><stop offset="0.837" stop-color="#d1dde3"/><stop offset="1.000" stop-color="#e2e3db"/></linearGradient>
<linearGradient id="b28"><stop offset="0.000" stop-color="#6b46b4"/><stop offset="0.029" stop-color="#6e4bb8"/><stop offset="0.295" stop-color="#8d82e4"/><stop offset="0.312" stop-color="#9087e8"/><stop offset="0.487" stop-color="#a5a8e8"/><stop offset="0.651" stop-color="#bccde9"/><stop offset="0.708" stop-color="#c2d8e9"/><stop offset="0.847" stop-color="#d1dde3"/><stop offset="1.000" stop-color="#e1e2db"/></linearGradient>
<linearGradient id="b29"><stop offset="0.000" stop-color="#6a44b2"/><stop offset="0.038" stop-color="#6e4bb8"/><stop offset="0.302" stop-color="#8d82e4"/><stop offset="0.318" stop-color="#9087e8"/><stop offset="0.493" stop-color="#a5a8e8"/><stop offset="0.657" stop-color="#bccde9"/><stop offset="0.715" stop-color="#c2d8e9"/><stop offset="0.856" stop-color="#d1dde3"/><stop offset="1.000" stop-color="#e0e2dc"/></linearGradient>
<linearGradient id="b30"><stop offset="0.000" stop-color="#6842b1"/><stop offset="0.048" stop-color="#6e4bb8"/><stop offset="0.309" stop-color="#8d82e4"/><stop offset="0.325" stop-color="#9087e8"/><stop offset="0.499" stop-color="#a5a8e8"/><stop offset="0.663" stop-color="#bccde9"/><stop offset="0.722" stop-color="#c2d8e9"/><stop offset="0.865" stop-color="#d1dde3"/><stop offset="1.000" stop-color="#dfe1dc"/></linearGradient>
<linearGradient id="b31"><stop offset="0.000" stop-color="#6740af"/><stop offset="0.058" stop-color="#6e4bb8"/><stop offset="0.316" stop-color="#8d82e4"/><stop offset="0.332" stop-color="#9087e8"/><stop offset="0.505" stop-color="#a5a8e8"/><stop offset="0.671" stop-color="#bccde9"/><stop offset="0.731" stop-color="#c2d8e9"/><stop offset="0.874" stop-color="#d1dde3"/><stop offset="1.000" stop-color="#dee1dd"/></linearGradient>
<linearGradient id="b32"><stop offset="0.000" stop-color="#663eae"/><stop offset="0.068" stop-color="#6e4bb8"/><stop offset="0.323" stop-color="#8d82e4"/><stop offset="0.340" stop-color="#9087e8"/><stop offset="0.512" stop-color="#a5a8e8"/><stop offset="0.679" stop-color="#bccde9"/><stop offset="0.739" stop-color="#c2d8e9"/><stop offset="0.884" stop-color="#d1dde3"/><stop offset="1.000" stop-color="#dde1dd"/></linearGradient>
<linearGradient id="b33"><stop offset="0.000" stop-color="#653dac"/><stop offset="0.078" stop-color="#6e4bb8"/><stop offset="0.330" stop-color="#8d82e4"/><stop offset="0.347" stop-color="#9087e8"/><stop offset="0.519" stop-color="#a5a8e8"/><stop offset="0.687" stop-color="#bccde9"/><stop offset="0.748" stop-color="#c2d8e9"/><stop offset="0.894" stop-color="#d1dde3"/><stop offset="1.000" stop-color="#dce0de"/></linearGradient>
<linearGradient id="b34"><stop offset="0.000" stop-color="#643bab"/><stop offset="0.089" stop-color="#6e4bb8"/><stop offset="0.338" stop-color="#8d82e4"/><stop offset="0.354" stop-color="#9087e8"/><stop offset="0.526" stop-color="#a5a8e8"/><stop offset="0.695" stop-color="#bccde9"/><stop offset="0.756" stop-color="#c2d8e9"/><stop offset="0.904" stop-color="#d1dde3"/><stop offset="1.000" stop-color="#dbe0de"/></linearGradient>
<linearGradient id="b35"><stop offset="0.000" stop-color="#6339a9"/><stop offset="0.099" stop-color="#6e4bb8"/><stop offset="0.346" stop-color="#8d82e4"/><stop offset="0.362" stop-color="#9087e8"/><stop offset="0.533" stop-color="#a5a8e8"/><stop offset="0.704" stop-color="#bccde9"/><stop offset="0.765" stop-color="#c2d8e9"/><stop offset="0.914" stop-color="#d1dde3"/><stop offset="1.000" stop-color="#d9e0df"/></linearGradient>
<linearGradient id="b36"><stop offset="0.000" stop-color="#6237a8"/><stop offset="0.109" stop-color="#6e4bb8"/><stop offset="0.353" stop-color="#8d82e4"/><stop offset="0.370" stop-color="#9087e8"/><stop offset="0.541" stop-color="#a5a8e8"/><stop offset="0.713" stop-color="#bccde9"/><stop offset="0.775" stop-color="#c2d8e9"/><stop offset="0.924" stop-color="#d1dde3"/><stop offset="1.000" stop-color="#d8dfdf"/></linearGradient>
<linearGradient id="b37"><stop offset="0.000" stop-color="#6135a6"/><stop offset="0.120" stop-color="#6e4bb8"/><stop offset="0.361" stop-color="#8d82e4"/><stop offset="0.378" stop-color="#9087e8"/><stop offset="0.548" stop-color="#a5a8e8"/><stop offset="0.723" stop-color="#bccde9"/><stop offset="0.785" stop-color="#c2d8e9"/><stop offset="0.934" stop-color="#d1dde3"/><stop offset="1.000" stop-color="#d7dfe0"/></linearGradient>
<linearGradient id="b38"><stop offset="0.000" stop-color="#6033a5"/><stop offset="0.130" stop-color="#6e4bb8"/><stop offset="0.369" stop-color="#8d82e4"/><stop offset="0.386" stop-color="#9087e8"/><stop offset="0.556" stop-color="#a5a8e8"/><stop offset="0.732" stop-color="#bccde9"/><stop offset="0.795" stop-color="#c2d8e9"/><stop offset="0.944" stop-color="#d1dde3"/><stop offset="1.000" stop-color="#d6dfe0"/></linearGradient>
<linearGradient id="b39"><stop offset="0.000" stop-color="#5f31a3"/><stop offset="0.141" stop-color="#6e4bb8"/><stop offset="0.378" stop-color="#8d82e4"/><stop offset="0.394" stop-color="#9087e8"/><stop offset="0.564" stop-color="#a5a8e8"/><stop offset="0.742" stop-color="#bccde9"/><stop offset="0.805" stop-color="#c2d8e9"/><stop offset="0.954" stop-color="#d1dde3"/><stop offset="1.000" stop-color="#d6dee1"/></linearGradient>
<linearGradient id="b40"><stop offset="0.000" stop-color="#5e2fa1"/><stop offset="0.152" stop-color="#6e4bb8"/><stop offset="0.386" stop-color="#8d82e4"/><stop offset="0.402" stop-color="#9087e8"/><stop offset="0.572" stop-color="#a5a8e8"/><stop offset="0.754" stop-color="#bccde9"/><stop offset="0.815" stop-color="#c2d8e9"/><stop offset="0.964" stop-color="#d1dde3"/><stop offset="1.000" stop-color="#d5dee1"/></linearGradient>
<linearGradient id="b41"><stop offset="0.000" stop-color="#5c2da0"/><stop offset="0.162" stop-color="#6e4bb8"/><stop offset="0.395" stop-color="#8d82e4"/><stop offset="0.411" stop-color="#9087e8"/><stop offset="0.581" stop-color="#a5a8e8"/><stop offset="0.765" stop-color="#bccde9"/><stop offset="0.826" stop-color="#c2d8e9"/><stop offset="0.974" stop-color="#d1dde3"/><stop offset="1.000" stop-color="#d4dee1"/></linearGradient>
<linearGradient id="b42"><stop offset="0.000" stop-color="#5b2b9e"/><stop offset="0.173" stop-color="#6e4bb8"/><stop offset="0.403" stop-color="#8d82e4"/><stop offset="0.420" stop-color="#9087e8"/><stop offset="0.589" stop-color="#a5a8e8"/><stop offset="0.776" stop-color="#bccde9"/><stop offset="0.837" stop-color="#c2d8e9"/><stop offset="0.983" stop-color="#d1dde3"/><stop offset="1.000" stop-color="#d3dde2"/></linearGradient>
<linearGradient id="b43"><stop offset="0.000" stop-color="#5a299d"/><stop offset="0.184" stop-color="#6e4bb8"/><stop offset="0.412" stop-color="#8d82e4"/><stop offset="0.428" stop-color="#9087e8"/><stop offset="0.597" stop-color="#a5a8e8"/><stop offset="0.787" stop-color="#bccde9"/><stop offset="0.847" stop-color="#c2d8e9"/><stop offset="0.993" stop-color="#d1dde3"/><stop offset="1.000" stop-color="#d2dde2"/></linearGradient>
<linearGradient id="b44"><stop offset="0.000" stop-color="#59279b"/><stop offset="0.195" stop-color="#6e4bb8"/><stop offset="0.421" stop-color="#8d82e4"/><stop offset="0.438" stop-color="#9087e8"/><stop offset="0.607" stop-color="#a5a8e8"/><stop offset="0.799" stop-color="#bccde9"/><stop offset="0.856" stop-color="#c2d8e9"/><stop offset="1.000" stop-color="#d2dde2"/></linearGradient>
<linearGradient id="b45"><stop offset="0.000" stop-color="#582599"/><stop offset="0.206" stop-color="#6e4bb8"/><stop offset="0.431" stop-color="#8d82e4"/><stop offset="0.447" stop-color="#9087e8"/><stop offset="0.616" stop-color="#a5a8e8"/><stop offset="0.812" stop-color="#bccde9"/><stop offset="0.869" stop-color="#c2d8e9"/><stop offset="1.000" stop-color="#d0dde3"/></linearGradient>
<linearGradient id="b46"><stop offset="0.000" stop-color="#572398"/><stop offset="0.217" stop-color="#6e4bb8"/><stop offset="0.440" stop-color="#8d82e4"/><stop offset="0.456" stop-color="#9087e8"/><stop offset="0.625" stop-color="#a5a8e8"/><stop offset="0.824" stop-color="#bccde9"/><stop offset="0.882" stop-color="#c2d8e9"/><stop offset="1.000" stop-color="#cfdce4"/></linearGradient>
<linearGradient id="b47"><stop offset="0.000" stop-color="#562196"/><stop offset="0.229" stop-color="#6e4bb8"/><stop offset="0.450" stop-color="#8d82e4"/><stop offset="0.466" stop-color="#9087e8"/><stop offset="0.634" stop-color="#a5a8e8"/><stop offset="0.836" stop-color="#bccde9"/><stop offset="0.896" stop-color="#c2d8e9"/><stop offset="1.000" stop-color="#cddce4"/></linearGradient>
<linearGradient id="b48"><stop offset="0.000" stop-color="#541f94"/><stop offset="0.240" stop-color="#6e4bb8"/><stop offset="0.459" stop-color="#8d82e4"/><stop offset="0.475" stop-color="#9087e8"/><stop offset="0.644" stop-color="#a5a8e8"/><stop offset="0.849" stop-color="#bccde9"/><stop offset="0.909" stop-color="#c2d8e9"/><stop offset="1.000" stop-color="#ccdbe5"/></linearGradient>
<linearGradient id="b49"><stop offset="0.000" stop-color="#531d93"/><stop offset="0.251" stop-color="#6e4bb8"/><stop offset="0.470" stop-color="#8d82e4"/><stop offset="0.486" stop-color="#9087e8"/><stop offset="0.655" stop-color="#a5a8e8"/><stop offset="0.862" stop-color="#bccde9"/><stop offset="0.923" stop-color="#c2d8e9"/><stop offset="1.000" stop-color="#cadbe6"/></linearGradient>
<linearGradient id="b50"><stop offset="0.000" stop-color="#521b91"/><stop offset="0.263" stop-color="#6e4bb8"/><stop offset="0.480" stop-color="#8d82e4"/><stop offset="0.496" stop-color="#9087e8"/><stop offset="0.665" stop-color="#a5a8e8"/><stop offset="0.875" stop-color="#bccde9"/><stop offset="0.937" stop-color="#c2d8e9"/><stop offset="1.000" stop-color="#c9dae6"/></linearGradient>
<linearGradient id="b51"><stop offset="0.000" stop-color="#51198f"/><stop offset="0.274" stop-color="#6e4bb8"/><stop offset="0.490" stop-color="#8d82e4"/><stop offset="0.506" stop-color="#9087e8"/><stop offset="0.675" stop-color="#a5a8e8"/><stop offset="0.888" stop-color="#bccde9"/><stop offset="0.950" stop-color="#c2d8e9"/><stop offset="1.000" stop-color="#c7dae7"/></linearGradient>
<linearGradient id="b52"><stop offset="0.000" stop-color="#50178e"/><stop offset="0.286" stop-color="#6e4bb8"/><stop offset="0.500" stop-color="#8d82e4"/><stop offset="0.516" stop-color="#9087e8"/><stop offset="0.686" stop-color="#a5a8e8"/><stop offset="0.901" stop-color="#bccde9"/><stop offset="0.964" stop-color="#c2d8e9"/><stop offset="1.000" stop-color="#c6d9e8"/></linearGradient>
<linearGradient id="b53"><stop offset="0.000" stop-color="#4e158c"/><stop offset="0.001" stop-color="#4f158c"/><stop offset="0.297" stop-color="#6e4bb8"/><stop offset="0.511" stop-color="#8d82e4"/><stop offset="0.527" stop-color="#9087e8"/><stop offset="0.698" stop-color="#a5a8e8"/><stop offset="0.913" stop-color="#bccde9"/><stop offset="0.976" stop-color="#c2d8e9"/><stop offset="1.000" stop-color="#c5d9e8"/></linearGradient>
<linearGradient id="b54"><stop offset="0.000" stop-color="#4d138a"/><stop offset="0.016" stop-color="#4f158c"/><stop offset="0.309" stop-color="#6e4bb8"/><stop offset="0.522" stop-color="#8d82e4"/><stop offset="0.539" stop-color="#9087e8"/><stop offset="0.709" stop-color="#a5a8e8"/><stop offset="0.925" stop-color="#bccde9"/><stop offset="0.989" stop-color="#c2d8e9"/><stop offset="1.000" stop-color="#c4d8e9"/></linearGradient>
<linearGradient id="b55"><stop offset="0.000" stop-color="#4c1189"/><stop offset="0.030" stop-color="#4f158c"/><stop offset="0.321" stop-color="#6e4bb8"/><stop offset="0.533" stop-color="#8d82e4"/><stop offset="0.550" stop-color="#9087e8"/><stop offset="0.721" stop-color="#a5a8e8"/><stop offset="0.938" stop-color="#bccde9"/><stop offset="1.000" stop-color="#c2d8e9"/></linearGradient>
<linearGradient id="b56"><stop offset="0.000" stop-color="#4b0f88"/><stop offset="0.041" stop-color="#4f158c"/><stop offset="0.330" stop-color="#6e4bb8"/><stop offset="0.542" stop-color="#8d82e4"/><stop offset="0.558" stop-color="#9087e8"/><stop offset="0.730" stop-color="#a5a8e8"/><stop offset="0.947" stop-color="#bccde9"/><stop offset="1.000" stop-color="#c1d6e9"/></linearGradient>
<linearGradient id="bcb" x1="0" y1="1" x2="0" y2="0"><stop offset="0.0000" stop-color="#4b0f87"/><stop offset="0.3333" stop-color="#9087e8"/><stop offset="0.6667" stop-color="#c2d8e9"/><stop offset="1.0000" stop-color="#f0e7d5"/></linearGradient>
<linearGradient id="d0"><stop offset="0.000" stop-color="#7659c3"/><stop offset="0.076" stop-color="#7f69d0"/><stop offset="0.215" stop-color="#9087e8"/><stop offset="0.303" stop-color="#9893e8"/><stop offset="0.465" stop-color="#acb4e9"/><stop offset="0.603" stop-color="#c0d4e9"/><stop offset="0.618" stop-color="#c2d8e9"/><stop offset="0.741" stop-color="#d3dde2"/><stop offset="0.907" stop-color="#e5e4da"/><stop offset="1.000" stop-color="#efe7d5"/></linearGradient>
<linearGradient id="d1"><stop offset="0.000" stop-color="#7559c3"/><stop offset="0.079" stop-color="#7f69d0"/><stop offset="0.218" stop-color="#9087e8"/><stop offset="0.305" stop-color="#9893e8"/><stop offset="0.467" stop-color="#acb4e9"/><stop offset="0.605" stop-color="#c0d4e9"/><stop offset="0.620" stop-color="#c2d8e9"/><stop offset="0.744" stop-color="#d3dde2"/><stop offset="0.910" stop-color="#e5e4da"/><stop offset="1.000" stop-color="#efe7d5"/></linearGradient>
<linearGradient id="d2"><stop offset="0.000" stop-color="#7558c2"/><stop offset="0.082" stop-color="#7f69d0"/><stop offset="0.221" stop-color="#9087e8"/><stop offset="0.308" stop-color="#9893e8"/><stop offset="0.470" stop-color="#acb4e9"/><stop offset="0.607" stop-color="#c0d4e9"/><stop offset="0.622" stop-color="#c2d8e9"/><stop offset="0.746" stop-color="#d3dde2"/><stop offset="0.913" stop-color="#e5e4da"/><stop offset="1.000" stop-color="#efe7d5"/></linearGradient>
<linearGradient id="d3"><stop offset="0.000" stop-color="#7557c2"/><stop offset="0.085" stop-color="#7f69d0"/><stop offset="0.223" stop-color="#9087e8"/><stop offset="0.310" stop-color="#9893e8"/><stop offset="0.472" stop-color="#acb4e9"/><stop offset="0.610" stop-color="#c0d4e9"/><stop offset="0.625" stop-color="#c2d8e9"/><stop offset="0.748" stop-color="#d3dde2"/><stop offset="0.916" stop-color="#e5e4da"/><stop offset="1.000" stop-color="#eee7d5"/></linearGradient>
<linearGradient id="d4"><stop offset="0.000" stop-color="#7457c1"/><stop offset="0.088" stop-color="#7f69d0"/><stop offset="0.226" stop-color="#9087e8"/><stop offset="0.313" stop-color="#9893e8"/><stop offset="0.474" stop-color="#acb4e9"/><stop offset="0.612" stop-color="#c0d4e9"/><stop offset="0.627" stop-color="#c2d8e9"/><stop offset="0.751" stop-color="#d3dde2"/><stop offset="0.919" stop-color="#e5e4da"/><stop offset="1.000" stop-color="#eee6d6"/></linearGradient>
<linearGradient id="d5"><stop offset="0.000" stop-color="#7456c1"/><stop offset="0.092" stop-color="#7f69d0"/><stop offset="0.229" stop-color="#9087e8"/><stop offset="0.316" stop-color="#9893e8"/><stop offset="0.476" stop-color="#acb4e9"/><stop offset="0.614" stop-color="#c0d4e9"/><stop offset="0.629" stop-color="#c2d8e9"/><stop offset="0.754" stop-color="#d3dde2"/><stop offset="0.921" stop-color="#e5e4da"/><stop offset="1.000" stop-color="#eee6d6"/></linearGradient>
<linearGradient id="d6"><stop offset="0.000" stop-color="#7355c0"/><stop offset="0.095" stop-color="#7f69d0"/><stop offset="0.232" stop-color="#9087e8"/><stop offset="0.318" stop-color="#9893e8"/><stop offset="0.477" stop-color="#acb4e9"/><stop offset="0.616" stop-color="#c0d4e9"/><stop offset="0.631" stop-color="#c2d8e9"/><stop offset="0.757" stop-color="#d3dde2"/><stop offset="0.924" stop-color="#e5e4da"/><stop offset="1.000" stop-color="#ede6d6"/></linearGradient>
<linearGradient id="d7"><stop offset="0.000" stop-color="#7355c0"/><stop offset="0.099" stop-color="#7f69d0"/><stop offset="0.235" stop-color="#9087e8"/><stop offset="0.321" stop-color="#9893e8"/><stop offset="0.479" stop-color="#acb4e9"/><stop offset="0.618" stop-color="#c0d4e9"/><stop offset="0.633" stop-color="#c2d8e9"/><stop offset="0.760" stop-color="#d3dde2"/><stop offset="0.927" stop-color="#e5e4da"/><stop offset="1.000" stop-color="#ede6d6"/></linearGradient>
<linearGradient id="d8"><stop offset="0.000" stop-color="#7354bf"/><stop offset="0.103" stop-color="#7f69d0"/><stop offset="0.238" stop-color="#9087e8"/><stop offset="0.323" stop-color="#9893e8"/><stop offset="0.480" stop-color="#acb4e9"/><stop offset="0.620" stop-color="#c0d4e9"/><stop offset="0.635" stop-color="#c2d8e9"/><stop offset="0.763" stop-color="#d3dde2"/><stop offset="0.931" stop-color="#e5e4da"/><stop offset="1.000" stop-color="#ede6d6"/></linearGradient>
<linearGradient id="d9"><stop offset="0.000" stop-color="#7253bf"/><stop offset="0.107" stop-color="#7f69d0"/><stop offset="0.241" stop-color="#9087e8"/><stop offset="0.326" stop-color="#9893e8"/><stop offset="0.482" stop-color="#acb4e9"/><stop offset="0.622" stop-color="#c0d4e9"/><stop offset="0.637" stop-color="#c2d8e9"/><stop offset="0.766" stop-color="#d3dde2"/><stop offset="0.935" stop-color="#e5e4da"/><stop offset="1.000" stop-color="#ece6d6"/></linearGradient>
<linearGradient id="d10"><stop offset="0.000" stop-color="#7253be"/><stop offset="0.111" stop-color="#7f69d0"/><stop offset="0.245" stop-color="#9087e8"/><stop offset="0.329" stop-color="#9893e8"/><stop offset="0.484" stop-color="#acb4e9"/><stop offset="0.624" stop-color="#c0d4e9"/><stop offset="0.640" stop-color="#c2d8e9"/><stop offset="0.770" stop-color="#d3dde2"/><stop offset="0.938" stop-color="#e5e4da"/><stop offset="1.000" stop-color="#ece6d7"/></linearGradient>
<linearGradient id="d11"><stop offset="0.000" stop-color="#7252bd"/><stop offset="0.115" stop-color="#7f69d0"/><stop offset="0.248" stop-color="#9087e8"/><stop offset="0.332" stop-color="#9893e8"/><stop offset="0.486" stop-color="#acb4e9"/><stop offset="0.626" stop-color="#c0d4e9"/><stop offset="0.642" stop-color="#c2d8e9"/><stop offset="0.774" stop-color="#d3dde2"/><stop offset="0.942" stop-color="#e5e4da"/><stop offset="1.000" stop-color="#ebe6d7"/></linearGradient>
<linearGradient id="d12"><stop offset="0.000" stop-color="#7151bd"/><stop offset="0.120" stop-color="#7f69d0"/><stop offset="0.252" stop-color="#9087e8"/><stop offset="0.335" stop-color="#9893e8"/><stop offset="0.488" stop-color="#acb4e9"/><stop offset="0.629" stop-color="#c0d4e9"/><stop offset="0.645" stop-color="#c2d8e9"/><stop offset="0.778" stop-color="#d3dde2"/><stop offset="0.945" stop-color="#e5e4da"/><stop offset="1.000" stop-color="#ebe6d7"/></linearGradient>
<linearGradient id="d13"><stop offset="0.000" stop-color="#7151bc"/><stop offset="0.124" stop-color="#7f69d0"/><stop offset="0.255" stop-color="#9087e8"/><stop offset="0.338" stop-color="#9893e8"/><stop offset="0.490" stop-color="#acb4e9"/><stop offset="0.631" stop-color="#c0d4e9"/><stop offset="0.648" stop-color="#c2d8e9"/><stop offset="0.782" stop-color="#d3dde2"/><stop offset="0.949" stop-color="#e5e4da"/><stop offset="1.000" stop-color="#ebe5d7"/></linearGradient>
<linearGradient id="d14"><stop offset="0.000" stop-color="#7050bc"/><stop offset="0.129" stop-color="#7f69d0"/><stop offset="0.259" stop-color="#9087e8"/><stop offset="0.342" stop-color="#9893e8"/><stop offset="0.493" stop-color="#acb4e9"/><stop offset="0.635" stop-color="#c0d4e9"/><stop offset="0.651" stop-color="#c2d8e9"/><stop offset="0.787" stop-color="#d3dde2"/><stop offset="0.953" stop-color="#e5e4da"/><stop offset="1.000" stop-color="#eae5d7"/></linearGradient>
<linearGradient id="d15"><stop offset="0.000" stop-color="#704fbb"/><stop offset="0.134" stop-color="#7f69d0"/><stop offset="0.264" stop-color="#9087e8"/><stop offset="0.345" stop-color="#9893e8"/><stop offset="0.496" stop-color="#acb4e9"/><stop offset="0.638" stop-color="#c0d4e9"/><stop offset="0.654" stop-color="#c2d8e9"/><stop offset="0.791" stop-color="#d3dde2"/><stop offset="0.958" stop-color="#e5e4da"/><stop offset="1.000" stop-color="#eae5d8"/></linearGradient>
<linearGradient id="d16"><stop offset="0.000" stop-color="#704fbb"/><stop offset="0.139" stop-color="#7f69d0"/><stop offset="0.268" stop-color="#9087e8"/><stop offset="0.349" stop-color="#9893e8"/><stop offset="0.498" stop-color="#acb4e9"/><stop offset="0.641" stop-color="#c0d4e9"/><stop offset="0.657" stop-color="#c2d8e9"/><stop offset="0.796" stop-color="#d3dde2"/><stop offset="0.963" stop-color="#e5e4da"/><stop offset="1.000" stop-color="#e9e5d8"/></linearGradient>
<linearGradient id="d17"><stop offset="0.000" stop-color="#6f4eba"/><stop offset="0.144" stop-color="#7f69d0"/><stop offset="0.272" stop-color="#9087e8"/><stop offset="0.353" stop-color="#9893e8"/><stop offset="0.501" stop-color="#acb4e9"/><stop offset="0.644" stop-color="#c0d4e9"/><stop offset="0.661" stop-color="#c2d8e9"/><stop offset="0.802" stop-color="#d3dde2"/><stop offset="0.967" stop-color="#e5e4da"/><stop offset="1.000" stop-color="#e9e5d8"/></linearGradient>
<linearGradient id="d18"><stop offset="0.000" stop-color="#6f4db9"/><stop offset="0.149" stop-color="#7f69d0"/><stop offset="0.277" stop-color="#9087e8"/><stop offset="0.357" stop-color="#9893e8"/><stop offset="0.505" stop-color="#acb4e9"/><stop offset="0.648" stop-color="#c0d4e9"/><stop offset="0.665" stop-color="#c2d8e9"/><stop offset="0.807" stop-color="#d3dde2"/><stop offset="0.972" stop-color="#e5e4da"/><stop offset="1.000" stop-color="#e8e5d8"/></linearGradient>
<linearGradient id="d19"><stop offset="0.000" stop-color="#6e4bb8"/><stop offset="0.155" stop-color="#7f69d0"/><stop offset="0.282" stop-color="#9087e8"/><stop offset="0.361" stop-color="#9893e8"/><stop offset="0.510" stop-color="#acb4e9"/><stop offset="0.652" stop-color="#c0d4e9"/><stop offset="0.670" stop-color="#c2d8e9"/><stop offset="0.813" stop-color="#d3dde2"/><stop offset="0.978" stop-color="#e5e4da"/><stop offset="1.000" stop-color="#e8e4d8"/></linearGradient>
<linearGradient id="d20"><stop offset="0.000" stop-color="#6d4ab7"/><stop offset="0.161" stop-color="#7f69d0"/><stop offset="0.287" stop-color="#9087e8"/><stop offset="0.366" stop-color="#9893e8"/><stop offset="0.514" stop-color="#acb4e9"/><stop offset="0.657" stop-color="#c0d4e9"/><stop offset="0.674" stop-color="#c2d8e9"/><stop offset="0.819" stop-color="#d3dde2"/><stop offset="0.983" stop-color="#e5e4da"/><stop offset="1.000" stop-color="#e7e4d9"/></linearGradient>
<linearGradient id="d21"><stop offset="0.000" stop-color="#6c49b6"/><stop offset="0.166" stop-color="#7f69d0"/><stop offset="0.291" stop-color="#9087e8"/><stop offset="0.370" stop-color="#9893e8"/><stop offset="0.518" stop-color="#acb4e9"/><stop offset="0.661" stop-color="#c0d4e9"/><stop offset="0.678" stop-color="#c2d8e9"/><stop offset="0.826" stop-color="#d3dde2"/><stop offset="0.989" stop-color="#e5e4da"/><stop offset="1.000" stop-color="#e6e4d9"/></linearGradient>
<linearGradient id="d22"><stop offset="0.000" stop-color="#6c48b5"/><stop offset="0.172" stop-color="#7f69d0"/><stop offset="0.297" stop-color="#9087e8"/><stop offset="0.375" stop-color="#9893e8"/><stop offset="0.523" stop-color="#acb4e9"/><stop offset="0.666" stop-color="#c0d4e9"/><stop offset="0.684" stop-color="#c2d8e9"/><stop offset="0.832" stop-color="#d3dde2"/><stop offset="0.995" stop-color="#e5e4da"/><stop offset="1.000" stop-color="#e6e4d9"/></linearGradient>
<linearGradient id="d23"><stop offset="0.000" stop-color="#6b47b4"/><stop offset="0.179" stop-color="#7f69d0"/><stop offset="0.302" stop-color="#9087e8"/><stop offset="0.380" stop-color="#9893e8"/><stop offset="0.529" stop-color="#acb4e9"/><stop offset="0.672" stop-color="#c0d4e9"/><stop offset="0.690" stop-color="#c2d8e9"/><stop offset="0.839" stop-color="#d3dde2"/><stop offset="1.000" stop-color="#e4e3da"/></linearGradient>
<linearGradient id="d24"><stop offset="0.000" stop-color="#6a45b3"/><stop offset="0.185" stop-color="#7f69d0"/><stop offset="0.308" stop-color="#9087e8"/><stop offset="0.386" stop-color="#9893e8"/><stop offset="0.534" stop-color="#acb4e9"/><stop offset="0.677" stop-color="#c0d4e9"/><stop offset="0.695" stop-color="#c2d8e9"/><stop offset="0.846" stop-color="#d3dde2"/><stop offset="1.000" stop-color="#e3e3da"/></linearGradient>
<linearGradient id="d25"><stop offset="0.000" stop-color="#6a44b2"/><stop offset="0.192" stop-color="#7f69d0"/><stop offset="0.314" stop-color="#9087e8"/><stop offset="0.391" stop-color="#9893e8"/><stop offset="0.540" stop-color="#acb4e9"/><stop offset="0.683" stop-color="#c0d4e9"/><stop offset="0.701" stop-color="#c2d8e9"/><stop offset="0.853" stop-color="#d3dde2"/><stop offset="1.000" stop-color="#e2e3db"/></linearGradient>
<linearGradient id="d26"><stop offset="0.000" stop-color="#6943b1"/><stop offset="0.198" stop-color="#7f69d0"/><stop offset="0.320" stop-color="#9087e8"/><stop offset="0.396" stop-color="#9893e8"/><stop offset="0.546" stop-color="#acb4e9"/><stop offset="0.689" stop-color="#c0d4e9"/><stop offset="0.708" stop-color="#c2d8e9"/><stop offset="0.861" stop-color="#d3dde2"/><stop offset="1.000" stop-color="#e2e2db"/></linearGradient>
<linearGradient id="d27"><stop offset="0.000" stop-color="#6842b0"/><stop offset="0.205" stop-color="#7f69d0"/><stop offset="0.326" stop-color="#9087e8"/><stop offset="0.402" stop-color="#9893e8"/><stop offset="0.552" stop-color="#acb4e9"/><stop offset="0.696" stop-color="#c0d4e9"/><stop offset="0.715" stop-color="#c2d8e9"/><stop offset="0.869" stop-color="#d3dde2"/><stop offset="1.000" stop-color="#e1e2dc"/></linearGradient>
<linearGradient id="d28"><stop offset="0.000" stop-color="#6841af"/><stop offset="0.212" stop-color="#7f69d0"/><stop offset="0.333" stop-color="#9087e8"/><stop offset="0.408" stop-color="#9893e8"/><stop offset="0.559" stop-color="#acb4e9"/><stop offset="0.703" stop-color="#c0d4e9"/><stop offset="0.722" stop-color="#c2d8e9"/><stop offset="0.877" stop-color="#d3dde2"/><stop offset="1.000" stop-color="#e0e2dc"/></linearGradient>
<linearGradient id="d29"><stop offset="0.000" stop-color="#673fae"/><stop offset="0.220" stop-color="#7f69d0"/><stop offset="0.339" stop-color="#9087e8"/><stop offset="0.415" stop-color="#9893e8"/><stop offset="0.566" stop-color="#acb4e9"/><stop offset="0.710" stop-color="#c0d4e9"/><stop offset="0.729" stop-color="#c2d8e9"/><stop offset="0.886" stop-color="#d3dde2"/><stop offset="1.000" stop-color="#dfe1dc"/></linearGradient>
<linearGradient id="d30"><stop offset="0.000" stop-color="#663eae"/><stop offset="0.227" stop-color="#7f69d0"/><stop offset="0.346" stop-color="#9087e8"/><stop offset="0.421" stop-color="#9893e8"/><stop offset="0.573" stop-color="#acb4e9"/><stop offset="0.717" stop-color="#c0d4e9"/><stop offset="0.736" stop-color="#c2d8e9"/><stop offset="0.894" stop-color="#d3dde2"/><stop offset="1.000" stop-color="#dee1dd"/></linearGradient>
<linearGradient id="d31"><stop offset="0.000" stop-color="#663dad"/><stop offset="0.235" stop-color="#7f69d0"/><stop offset="0.353" stop-color="#9087e8"/><stop offset="0.427" stop-color="#9893e8"/><stop offset="0.580" stop-color="#acb4e9"/><stop offset="0.725" stop-color="#c0d4e9"/><stop offset="0.744" stop-color="#c2d8e9"/><stop offset="0.903" stop-color="#d3dde2"/><stop offset="1.000" stop-color="#dde1dd"/></linearGradient>
<linearGradient id="d32"><stop offset="0.000" stop-color="#653cac"/><stop offset="0.243" stop-color="#7f69d0"/><stop offset="0.360" stop-color="#9087e8"/><stop offset="0.434" stop-color="#9893e8"/><stop offset="0.587" stop-color="#acb4e9"/><stop offset="0.733" stop-color="#c0d4e9"/><stop offset="0.752" stop-color="#c2d8e9"/><stop offset="0.912" stop-color="#d3dde2"/><stop offset="1.000" stop-color="#dce0de"/></linearGradient>
<linearGradient id="d33"><stop offset="0.000" stop-color="#643bab"/><stop offset="0.251" stop-color="#7f69d0"/><stop offset="0.367" stop-color="#9087e8"/><stop offset="0.441" stop-color="#9893e8"/><stop offset="0.595" stop-color="#acb4e9"/><stop offset="0.742" stop-color="#c0d4e9"/><stop offset="0.761" stop-color="#c2d8e9"/><stop offset="0.921" stop-color="#d3dde2"/><stop offset="1.000" stop-color="#dbe0de"/></linearGradient>
<linearGradient id="d34"><stop offset="0.000" stop-color="#6339aa"/><stop offset="0.259" stop-color="#7f69d0"/><stop offset="0.375" stop-color="#9087e8"/><stop offset="0.448" stop-color="#9893e8"/><stop offset="0.603" stop-color="#acb4e9"/><stop offset="0.750" stop-color="#c0d4e9"/><stop offset="0.769" stop-color="#c2d8e9"/><stop offset="0.930" stop-color="#d3dde2"/><stop offset="1.000" stop-color="#dae0df"/></linearGradient>
<linearGradient id="d35"><stop offset="0.000" stop-color="#6338a8"/><stop offset="0.007" stop-color="#6339a9"/><stop offset="0.267" stop-color="#7f69d0"/><stop offset="0.382" stop-color="#9087e8"/><stop offset="0.455" stop-color="#9893e8"/><stop offset="0.610" stop-color="#acb4e9"/><stop offset="0.759" stop-color="#c0d4e9"/><stop offset="0.778" stop-color="#c2d8e9"/><stop offset="0.939" stop-color="#d3dde2"/><stop offset="1.000" stop-color="#d9dfdf"/></linearGradient>
<linearGradient id="d36"><stop offset="0.000" stop-color="#6236a7"/><stop offset="0.021" stop-color="#6339a9"/><stop offset="0.276" stop-color="#7f69d0"/><stop offset="0.390" stop-color="#9087e8"/><stop offset="0.462" stop-color="#9893e8"/><stop offset="0.619" stop-color="#acb4e9"/><stop offset="0.768" stop-color="#c0d4e9"/><stop offset="0.788" stop-color="#c2d8e9"/><stop offset="0.949" stop-color="#d3dde2"/><stop offset="1.000" stop-color="#d8dfdf"/></linearGradient>
<linearGradient id="d37"><stop offset="0.000" stop-color="#6034a5"/><stop offset="0.035" stop-color="#6339a9"/><stop offset="0.284" stop-color="#7f69d0"/><stop offset="0.398" stop-color="#9087e8"/><stop offset="0.470" stop-color="#9893e8"/><stop offset="0.627" stop-color="#acb4e9"/><stop offset="0.778" stop-color="#c0d4e9"/><stop offset="0.797" stop-color="#c2d8e9"/><stop offset="0.958" stop-color="#d3dde2"/><stop offset="1.000" stop-color="#d7dfe0"/></linearGradient>
<linearGradient id="d38"><stop offset="0.000" stop-color="#5f33a4"/><stop offset="0.048" stop-color="#6339a9"/><stop offset="0.293" stop-color="#7f69d0"/><stop offset="0.406" stop-color="#9087e8"/><stop offset="0.477" stop-color="#9893e8"/><stop offset="0.635" stop-color="#acb4e9"/><stop offset="0.787" stop-color="#c0d4e9"/><stop offset="0.806" stop-color="#c2d8e9"/><stop offset="0.968" stop-color="#d3dde2"/><stop offset="1.000" stop-color="#d6dfe0"/></linearGradient>
<linearGradient id="d39"><stop offset="0.000" stop-color="#5e31a3"/><stop offset="0.062" stop-color="#6339a9"/><stop offset="0.302" stop-color="#7f69d0"/><stop offset="0.414" stop-color="#9087e8"/><stop offset="0.485" stop-color="#9893e8"/><stop offset="0.643" stop-color="#acb4e9"/><stop offset="0.797" stop-color="#c0d4e9"/><stop offset="0.816" stop-color="#c2d8e9"/><stop offset="0.977" stop-color="#d3dde2"/><stop offset="1.000" stop-color="#d5dee1"/></linearGradient>
<linearGradient id="d40"><stop offset="0.000" stop-color="#5d2fa1"/><stop offset="0.075" stop-color="#6339a9"/><stop offset="0.311" stop-color="#7f69d0"/><stop offset="0.423" stop-color="#9087e8"/><stop offset="0.493" stop-color="#9893e8"/><stop offset="0.652" stop-color="#acb4e9"/><stop offset="0.808" stop-color="#c0d4e9"/><stop offset="0.827" stop-color="#c2d8e9"/><stop offset="0.987" stop-color="#d3dde2"/><stop offset="1.000" stop-color="#d4dee1"/></linearGradient>
<linearGradient id="d41"><stop offset="0.000" stop-color="#5c2da0"/><stop offset="0.088" stop-color="#6339a9"/><stop offset="0.321" stop-color="#7f69d0"/><stop offset="0.431" stop-color="#9087e8"/><stop offset="0.501" stop-color="#9893e8"/><stop offset="0.661" stop-color="#acb4e9"/><stop offset="0.818" stop-color="#c0d4e9"/><stop offset="0.837" stop-color="#c2d8e9"/><stop offset="0.996" stop-color="#d3dde2"/><stop offset="1.000" stop-color="#d3dee2"/></linearGradient>
<linearGradient id="d42"><stop offset="0.000" stop-color="#5b2b9e"/><stop offset="0.101" stop-color="#6339a9"/><stop offset="0.330" stop-color="#7f69d0"/><stop offset="0.440" stop-color="#9087e8"/><stop offset="0.509" stop-color="#9893e8"/><stop offset="0.670" stop-color="#acb4e9"/><stop offset="0.829" stop-color="#c0d4e9"/><stop offset="0.846" stop-color="#c2d8e9"/><stop offset="1.000" stop-color="#d4dee1"/></linearGradient>
<linearGradient id="d43"><stop offset="0.000" stop-color="#5a299d"/><stop offset="0.114" stop-color="#6339a9"/><stop offset="0.340" stop-color="#7f69d0"/><stop offset="0.449" stop-color="#9087e8"/><stop offset="0.517" stop-color="#9893e8"/><stop offset="0.679" stop-color="#acb4e9"/><stop offset="0.840" stop-color="#c0d4e9"/><stop offset="0.857" stop-color="#c2d8e9"/><stop offset="1.000" stop-color="#d3dde2"/></linearGradient>
<linearGradient id="d44"><stop offset="0.000" stop-color="#59289b"/><stop offset="0.126" stop-color="#6339a9"/><stop offset="0.350" stop-color="#7f69d0"/><stop offset="0.458" stop-color="#9087e8"/><stop offset="0.526" stop-color="#9893e8"/><stop offset="0.688" stop-color="#acb4e9"/><stop offset="0.851" stop-color="#c0d4e9"/><stop offset="0.869" stop-color="#c2d8e9"/><stop offset="1.000" stop-color="#d1dde2"/></linearGradient>
<linearGradient id="d45"><stop offset="0.000" stop-color="#58269a"/><stop offset="0.139" stop-color="#6339a9"/><stop offset="0.360" stop-color="#7f69d0"/><stop offset="0.467" stop-color="#9087e8"/><stop offset="0.535" stop-color="#9893e8"/><stop offset="0.698" stop-color="#acb4e9"/><stop offset="0.863" stop-color="#c0d4e9"/><stop offset="0.880" stop-color="#c2d8e9"/><stop offset="1.000" stop-color="#d0dce3"/></linearGradient>
<linearGradient id="d46"><stop offset="0.000" stop-color="#572498"/><stop offset="0.151" stop-color="#6339a9"/><stop offset="0.370" stop-color="#7f69d0"/><stop offset="0.477" stop-color="#9087e8"/><stop offset="0.544" stop-color="#9893e8"/><stop offset="0.707" stop-color="#acb4e9"/><stop offset="0.874" stop-color="#c0d4e9"/><stop offset="0.892" stop-color="#c2d8e9"/><stop offset="1.000" stop-color="#cedce4"/></linearGradient>
<linearGradient id="d47"><stop offset="0.000" stop-color="#562297"/><stop offset="0.163" stop-color="#6339a9"/><stop offset="0.380" stop-color="#7f69d0"/><stop offset="0.486" stop-color="#9087e8"/><stop offset="0.553" stop-color="#9893e8"/><stop offset="0.717" stop-color="#acb4e9"/><stop offset="0.886" stop-color="#c0d4e9"/><stop offset="0.904" stop-color="#c2d8e9"/><stop offset="1.000" stop-color="#cddbe4"/></linearGradient>
<linearGradient id="d48"><stop offset="0.000" stop-color="#552095"/><stop offset="0.174" stop-color="#6339a9"/><stop offset="0.390" stop-color="#7f69d0"/><stop offset="0.495" stop-color="#9087e8"/><stop offset="0.562" stop-color="#9893e8"/><stop offset="0.727" stop-color="#acb4e9"/><stop offset="0.898" stop-color="#c0d4e9"/><stop offset="0.917" stop-color="#c2d8e9"/><stop offset="1.000" stop-color="#cbdbe5"/></linearGradient>
<linearGradient id="d49"><stop offset="0.000" stop-color="#541e94"/><stop offset="0.186" stop-color="#6339a9"/><stop offset="0.400" stop-color="#7f69d0"/><stop offset="0.505" stop-color="#9087e8"/><stop offset="0.572" stop-color="#9893e8"/><stop offset="0.738" stop-color="#acb4e9"/><stop offset="0.911" stop-color="#c0d4e9"/><stop offset="0.929" stop-color="#c2d8e9"/><stop offset="1.000" stop-color="#cadae6"/></linearGradient>
<linearGradient id="d50"><stop offset="0.000" stop-color="#531c92"/><stop offset="0.198" stop-color="#6339a9"/><stop offset="0.411" stop-color="#7f69d0"/><stop offset="0.516" stop-color="#9087e8"/><stop offset="0.582" stop-color="#9893e8"/><stop offset="0.750" stop-color="#acb4e9"/><stop offset="0.924" stop-color="#c0d4e9"/><stop offset="0.942" stop-color="#c2d8e9"/><stop offset="1.000" stop-color="#c9dae6"/></linearGradient>
<linearGradient id="d51"><stop offset="0.000" stop-color="#521a90"/><stop offset="0.209" stop-color="#6339a9"/><stop offset="0.421" stop-color="#7f69d0"/><stop offset="0.526" stop-color="#9087e8"/><stop offset="0.591" stop-color="#9893e8"/><stop offset="0.761" stop-color="#acb4e9"/><stop offset="0.936" stop-color="#c0d4e9"/><stop offset="0.955" stop-color="#c2d8e9"/><stop offset="1.000" stop-color="#c7dae7"/></linearGradient>
<linearGradient id="d52"><stop offset="0.000" stop-color="#50188f"/><stop offset="0.220" stop-color="#6339a9"/><stop offset="0.432" stop-color="#7f69d0"/><stop offset="0.536" stop-color="#9087e8"/><stop offset="0.601" stop-color="#9893e8"/><stop offset="0.772" stop-color="#acb4e9"/><stop offset="0.950" stop-color="#c0d4e9"/><stop offset="0.969" stop-color="#c2d8e9"/><stop offset="1.000" stop-color="#c6d9e8"/></linearGradient>
<linearGradient id="d53"><stop offset="0.000" stop-color="#4f168d"/><stop offset="0.232" stop-color="#6339a9"/><stop offset="0.442" stop-color="#7f69d0"/><stop offset="0.546" stop-color="#9087e8"/><stop offset="0.612" stop-color="#9893e8"/><stop offset="0.786" stop-color="#acb4e9"/><stop offset="0.963" stop-color="#c0d4e9"/><stop offset="0.982" stop-color="#c2d8e9"/><stop offset="1.000" stop-color="#c4d9e8"/></linearGradient>
<linearGradient id="d54"><stop offset="0.000" stop-color="#4e148c"/><stop offset="0.243" stop-color="#6339a9"/><stop offset="0.453" stop-color="#7f69d0"/><stop offset="0.557" stop-color="#9087e8"/><stop offset="0.623" stop-color="#9893e8"/><stop offset="0.800" stop-color="#acb4e9"/><stop offset="0.977" stop-color="#c0d4e9"/><stop offset="0.996" stop-color="#c2d8e9"/><stop offset="1.000" stop-color="#c3d8e9"/></linearGradient>
<linearGradient id="d55"><stop offset="0.000" stop-color="#4d128a"/><stop offset="0.254" stop-color="#6339a9"/><stop offset="0.464" stop-color="#7f69d0"/><stop offset="0.568" stop-color="#9087e8"/><stop offset="0.634" stop-color="#9893e8"/><stop offset="0.814" stop-color="#acb4e9"/><stop offset="0.991" stop-color="#c0d4e9"/><stop offset="1.000" stop-color="#c1d6e9"/></linearGradient>
<linearGradient id="d56"><stop offset="0.000" stop-color="#4c1088"/><stop offset="0.264" stop-color="#6339a9"/><stop offset="0.474" stop-color="#7f69d0"/><stop offset="0.579" stop-color="#9087e8"/><stop offset="0.645" stop-color="#9893e8"/><stop offset="0.828" stop-color="#acb4e9"/><stop offset="1.000" stop-color="#bfd2e9"/></linearGradient>
<linearGradient id="d57"><stop offset="0.000" stop-color="#4b0f87"/><stop offset="0.271" stop-color="#6339a9"/><stop offset="0.481" stop-color="#7f69d0"/><stop offset="0.586" stop-color="#9087e8"/><stop offset="0.652" stop-color="#9893e8"/><stop offset="0.837" stop-color="#acb4e9"/><stop offset="1.000" stop-color="#bed1e9"/></linearGradient>
<linearGradient id="dcb" x1="0" y1="1" x2="0" y2="0"><stop offset="0.0000" stop-color="#4b0f87"/><stop offset="0.3333" stop-color="#9087e8"/><stop offset="0.6667" stop-color="#c2d8e9"/><stop offset="1.0000" stop-color="#f0e7d5"/></linearGradient></defs>
<rect width="1125" height="1125" fill="#fff"/>
<g shape-rendering="crispEdges"><rect x="106.1" y="120.9" width="344.4" height="6.6" fill="url(#a0)"/><rect x="106.1" y="126.9" width="344.4" height="6.6" fill="url(#a1)"/><rect x="106.1" y="132.9" width="344.4" height="6.6" fill="url(#a2)"/><rect x="106.1" y="138.9" width="344.4" height="6.6" fill="url(#a3)"/><rect x="106.1" y="144.9" width="344.4" height="6.6" fill="url(#a4)"/><rect x="106.1" y="150.9" width="344.4" height="6.6" fill="url(#a5)"/><rect x="106.1" y="156.9" width="344.4" height="6.6" fill="url(#a6)"/><rect x="106.1" y="162.9" width="344.4" height="6.6" fill="url(#a7)"/><rect x="106.1" y="168.9" width="344.4" height="6.6" fill="url(#a8)"/><rect x="106.1" y="174.9" width="344.4" height="6.6" fill="url(#a9)"/><rect x="106.1" y="180.9" width="344.4" height="6.6" fill="url(#a10)"/><rect x="106.1" y="186.9" width="344.4" height="6.6" fill="url(#a11)"/><rect x="106.1" y="192.9" width="344.4" height="6.6" fill="url(#a12)"/><rect x="106.1" y="198.9" width="344.4" height="6.6" fill="url(#a13)"/><rect x="106.1" y="204.9" width="344.4" height="6.6" fill="url(#a14)"/><rect x="106.1" y="210.9" width="344.4" height="6.6" fill="url(#a15)"/><rect x="106.1" y="216.9" width="344.4" height="6.6" fill="url(#a16)"/><rect x="106.1" y="222.9" width="344.4" height="6.6" fill="url(#a17)"/><rect x="106.1" y="228.9" width="344.4" height="6.6" fill="url(#a18)"/><rect x="106.1" y="234.9" width="344.4" height="6.6" fill="url(#a19)"/><rect x="106.1" y="240.9" width="344.4" height="6.6" fill="url(#a20)"/><rect x="106.1" y="246.9" width="344.4" height="6.6" fill="url(#a21)"/><rect x="106.1" y="252.9" width="344.4" height="6.6" fill="url(#a22)"/><rect x="106.1" y="258.9" width="344.4" height="6.6" fill="url(#a23)"/><rect x="106.1" y="264.9" width="344.4" height="6.6" fill="url(#a24)"/><rect x="106.1" y="270.9" width="344.4" height="6.6" fill="url(#a25)"/><rect x="106.1" y="276.9" width="344.4" height="6.6" fill="url(#a26)"/><rect x="106.1" y="282.9" width="344.4" height="6.6" fill="url(#a27)"/><rect x="106.1" y="288.9" width="344.4" height="6.6" fill="url(#a28)"/><rect x="106.1" y="294.9" width="344.4" height="6.6" fill="url(#a29)"/><rect x="106.1" y="300.9" width="344.4" height="6.6" fill="url(#a30)"/><rect x="106.1" y="306.9" width="344.4" height="6.6" fill="url(#a31)"/><rect x="106.1" y="312.9" width="344.4" height="6.6" fill="url(#a32)"/><rect x="106.1" y="318.9" width="344.4" height="6.6" fill="url(#a33)"/><rect x="106.1" y="324.9" width="344.4" height="6.6" fill="url(#a34)"/><rect x="106.1" y="330.9" width="344.4" height="6.6" fill="url(#a35)"/><rect x="106.1" y="336.9" width="344.4" height="6.6" fill="url(#a36)"/><rect x="106.1" y="342.9" width="344.4" height="6.6" fill="url(#a37)"/><rect x="106.1" y="348.9" width="344.4" height="6.6" fill="url(#a38)"/><rect x="106.1" y="354.9" width="344.4" height="6.6" fill="url(#a39)"/><rect x="106.1" y="360.9" width="344.4" height="6.6" fill="url(#a40)"/><rect x="106.1" y="366.9" width="344.4" height="6.6" fill="url(#a41)"/><rect x="106.1" y="372.9" width="344.4" height="6.6" fill="url(#a42)"/><rect x="106.1" y="378.9" width="344.4" height="6.6" fill="url(#a43)"/><rect x="106.1" y="384.9" width="344.4" height="6.6" fill="url(#a44)"/><rect x="106.1" y="390.9" width="344.4" height="6.6" fill="url(#a45)"/><rect x="106.1" y="396.9" width="344.4" height="6.6" fill="url(#a46)"/><rect x="106.1" y="402.9" width="344.4" height="6.6" fill="url(#a47)"/><rect x="106.1" y="408.9" width="344.4" height="6.6" fill="url(#a48)"/><rect x="106.1" y="414.9" width="344.4" height="6.6" fill="url(#a49)"/><rect x="106.1" y="420.9" width="344.4" height="6.6" fill="url(#a50)"/><rect x="106.1" y="426.9" width="344.4" height="6.6" fill="url(#a51)"/><rect x="106.1" y="432.9" width="344.4" height="6.6" fill="url(#a52)"/><rect x="106.1" y="438.9" width="344.4" height="6.6" fill="url(#a53)"/><rect x="106.1" y="444.9" width="344.4" height="6.6" fill="url(#a54)"/><rect x="106.1" y="450.9" width="344.4" height="6.6" fill="url(#a55)"/><rect x="106.1" y="456.9" width="344.4" height="6.6" fill="url(#a56)"/><rect x="106.1" y="462.9" width="344.4" height="2.3" fill="url(#a57)"/></g>
<path d="M106.8 444.4 L123.6 465" fill="none" stroke="#26222e" stroke-opacity="0.62" stroke-width="1.1"/>
<path d="M106.85 372.7C107.6 373.88 109.83 377.43 111.34 379.8C112.86 382.17 114.39 384.53 115.94 386.9C117.49 389.27 119.05 391.63 120.64 394C122.22 396.37 123.82 398.73 125.44 401.1C127.06 403.47 128.69 405.83 130.34 408.2C131.99 410.57 133.66 412.93 135.34 415.3C137.03 417.67 138.73 420.03 140.44 422.4C142.16 424.77 143.89 427.13 145.64 429.5C147.39 431.87 149.15 434.23 150.93 436.6C152.71 438.97 154.5 441.33 156.32 443.7C158.13 446.07 159.95 448.43 161.79 450.8C163.63 453.17 165.49 455.53 167.36 457.9C169.23 460.27 172.08 463.82 173.02 465" fill="none" stroke="#26222e" stroke-opacity="0.62" stroke-width="1.1"/>
<path d="M142.09 121.3C141.24 125.71 138.59 138.93 136.96 147.74C135.34 156.55 133.66 165.36 132.34 174.18C131.03 182.99 129.84 191.8 129.08 200.62C128.32 209.43 127.82 218.24 127.77 227.05C127.72 235.87 128.03 244.68 128.79 253.49C129.56 262.31 130.74 271.12 132.36 279.93C133.99 288.74 136.05 297.56 138.54 306.37C141.02 315.18 143.94 323.99 147.25 332.81C150.55 341.62 154.29 350.43 158.36 359.25C162.43 368.06 166.9 376.87 171.67 385.68C176.44 394.5 181.57 403.31 186.97 412.12C192.36 420.94 198.08 429.75 204.04 438.56C209.99 447.37 219.6 460.59 222.71 465" fill="none" stroke="#26222e" stroke-opacity="0.62" stroke-width="1.1"/>
<path d="M201.72 121.3C201.18 125.71 199.56 138.93 198.52 147.74C197.47 156.55 196.34 165.36 195.44 174.18C194.54 182.99 193.66 191.8 193.12 200.62C192.58 209.43 192.18 218.24 192.2 227.05C192.22 235.87 192.5 244.68 193.25 253.49C194.01 262.31 195.12 271.12 196.74 279.93C198.35 288.74 200.4 297.56 202.93 306.37C205.45 315.18 208.48 323.99 211.89 332.81C215.3 341.62 219.23 350.43 223.39 359.25C227.54 368.06 232.19 376.87 236.84 385.68C241.5 394.5 246.55 403.31 251.3 412.12C256.04 420.94 261.04 429.75 265.32 438.56C269.6 447.37 275.03 460.59 276.97 465" fill="none" stroke="#26222e" stroke-opacity="0.62" stroke-width="1.1"/>
<path d="M266.04 121.3C265.63 125.71 264.37 138.93 263.59 147.74C262.82 156.55 261.97 165.36 261.39 174.18C260.8 182.99 260.3 191.8 260.08 200.62C259.87 209.43 259.83 218.24 260.09 227.05C260.35 235.87 260.86 244.68 261.66 253.49C262.46 262.31 263.54 271.12 264.9 279.93C266.26 288.74 267.91 297.56 269.84 306.37C271.76 315.18 273.97 323.99 276.47 332.81C278.96 341.62 281.73 350.43 284.8 359.25C287.88 368.06 291.22 376.87 294.92 385.68C298.61 394.5 302.58 403.31 306.99 412.12C311.41 420.94 316.11 429.75 321.39 438.56C326.66 447.37 335.78 460.59 338.65 465" fill="none" stroke="#26222e" stroke-opacity="0.62" stroke-width="1.1"/>
<path d="M340.36 121.3C340.29 125.71 340.29 138.93 339.93 147.74C339.58 156.55 338.81 165.36 338.21 174.18C337.62 182.99 336.83 191.8 336.36 200.62C335.88 209.43 335.41 218.24 335.36 227.05C335.31 235.87 335.43 244.68 336.05 253.49C336.67 262.31 337.61 271.12 339.08 279.93C340.55 288.74 342.45 297.56 344.88 306.37C347.32 315.18 350.25 323.99 353.69 332.81C357.13 341.62 361.11 350.43 365.52 359.25C369.92 368.06 374.87 376.87 380.12 385.68C385.38 394.5 391.14 403.31 397.04 412.12C402.94 420.94 409.27 429.75 415.51 438.56C421.76 447.37 431.36 460.59 434.53 465" fill="none" stroke="#26222e" stroke-opacity="0.62" stroke-width="1.1"/>
<rect x="99.5" y="114.5" width="358" height="358" fill="none" stroke="#767676" stroke-width="1"/>
<text x="155.4" y="505.8" font-size="31" text-anchor="middle">1.5</text>
<text x="253.76" y="505.8" font-size="31" text-anchor="middle">2.0</text>
<text x="352.13" y="505.8" font-size="31" text-anchor="middle">2.5</text>
<text x="450.5" y="505.8" font-size="31" text-anchor="middle">3.0</text>
<text x="112.5" y="103.1" font-size="31" text-anchor="middle">100</text>
<text x="175.5" y="103.1" font-size="31" text-anchor="middle">125</text>
<text x="238.5" y="103.1" font-size="31" text-anchor="middle">150</text>
<text x="301.5" y="103.1" font-size="31" text-anchor="middle">175</text>
<text x="364.5" y="103.1" font-size="31" text-anchor="middle">200</text>
<text x="427.5" y="103.1" font-size="31" text-anchor="middle">225</text>
<text x="95" y="476.32" font-size="31" text-anchor="end">5</text>
<text x="95" y="414.73" font-size="31" text-anchor="end">10</text>
<text x="95" y="271.72" font-size="31" text-anchor="end">50</text>
<text x="95" y="210.13" font-size="31" text-anchor="end">100</text>
<g stroke-width="1" fill="none"><path d="M116.05 472.5v-3" stroke="#6a6a6a"/><path d="M135.73 472.5v-3" stroke="#6a6a6a"/><path d="M155.4 472.5v-5" stroke="#555"/><path d="M175.07 472.5v-3" stroke="#6a6a6a"/><path d="M194.75 472.5v-3" stroke="#6a6a6a"/><path d="M214.42 472.5v-3" stroke="#6a6a6a"/><path d="M234.09 472.5v-3" stroke="#6a6a6a"/><path d="M253.76 472.5v-5" stroke="#555"/><path d="M273.44 472.5v-3" stroke="#6a6a6a"/><path d="M293.11 472.5v-3" stroke="#6a6a6a"/><path d="M312.78 472.5v-3" stroke="#6a6a6a"/><path d="M332.46 472.5v-3" stroke="#6a6a6a"/><path d="M352.13 472.5v-5" stroke="#555"/><path d="M371.8 472.5v-3" stroke="#6a6a6a"/><path d="M391.48 472.5v-3" stroke="#6a6a6a"/><path d="M411.15 472.5v-3" stroke="#6a6a6a"/><path d="M430.82 472.5v-3" stroke="#6a6a6a"/><path d="M450.5 472.5v-5" stroke="#555"/><path d="M112.5 114.5v5" stroke="#555"/><path d="M125.1 114.5v3" stroke="#6a6a6a"/><path d="M137.7 114.5v3" stroke="#6a6a6a"/><path d="M150.3 114.5v3" stroke="#6a6a6a"/><path d="M162.9 114.5v3" stroke="#6a6a6a"/><path d="M175.5 114.5v5" stroke="#555"/><path d="M188.1 114.5v3" stroke="#6a6a6a"/><path d="M200.7 114.5v3" stroke="#6a6a6a"/><path d="M213.3 114.5v3" stroke="#6a6a6a"/><path d="M225.9 114.5v3" stroke="#6a6a6a"/><path d="M238.5 114.5v5" stroke="#555"/><path d="M251.1 114.5v3" stroke="#6a6a6a"/><path d="M263.7 114.5v3" stroke="#6a6a6a"/><path d="M276.3 114.5v3" stroke="#6a6a6a"/><path d="M288.9 114.5v3" stroke="#6a6a6a"/><path d="M301.5 114.5v5" stroke="#555"/><path d="M314.1 114.5v3" stroke="#6a6a6a"/><path d="M326.7 114.5v3" stroke="#6a6a6a"/><path d="M339.3 114.5v3" stroke="#6a6a6a"/><path d="M351.9 114.5v3" stroke="#6a6a6a"/><path d="M364.5 114.5v5" stroke="#555"/><path d="M377.1 114.5v3" stroke="#6a6a6a"/><path d="M389.7 114.5v3" stroke="#6a6a6a"/><path d="M402.3 114.5v3" stroke="#6a6a6a"/><path d="M414.9 114.5v3" stroke="#6a6a6a"/><path d="M427.5 114.5v5" stroke="#555"/><path d="M440.1 114.5v3" stroke="#6a6a6a"/><path d="M452.7 114.5v3" stroke="#6a6a6a"/><path d="M99.5 465.59h4.8" stroke="#555"/><path d="M457.5 465.59h-4.8" stroke="#555"/><path d="M99.5 449.39h3" stroke="#9c9c9c"/><path d="M457.5 449.39h-3" stroke="#9c9c9c"/><path d="M99.5 435.69h3" stroke="#9c9c9c"/><path d="M457.5 435.69h-3" stroke="#9c9c9c"/><path d="M99.5 423.83h3" stroke="#9c9c9c"/><path d="M457.5 423.83h-3" stroke="#9c9c9c"/><path d="M99.5 413.36h3" stroke="#9c9c9c"/><path d="M457.5 413.36h-3" stroke="#9c9c9c"/><path d="M99.5 404h4.8" stroke="#555"/><path d="M457.5 404h-4.8" stroke="#555"/><path d="M99.5 342.41h3.5" stroke="#555"/><path d="M457.5 342.41h-3.5" stroke="#555"/><path d="M99.5 306.38h3.5" stroke="#555"/><path d="M457.5 306.38h-3.5" stroke="#555"/><path d="M99.5 280.82h3.5" stroke="#555"/><path d="M457.5 280.82h-3.5" stroke="#555"/><path d="M99.5 260.99h4.8" stroke="#555"/><path d="M457.5 260.99h-4.8" stroke="#555"/><path d="M99.5 244.79h3" stroke="#9c9c9c"/><path d="M457.5 244.79h-3" stroke="#9c9c9c"/><path d="M99.5 231.09h3" stroke="#9c9c9c"/><path d="M457.5 231.09h-3" stroke="#9c9c9c"/><path d="M99.5 219.23h3" stroke="#9c9c9c"/><path d="M457.5 219.23h-3" stroke="#9c9c9c"/><path d="M99.5 208.76h3" stroke="#9c9c9c"/><path d="M457.5 208.76h-3" stroke="#9c9c9c"/><path d="M99.5 199.4h4.8" stroke="#555"/><path d="M457.5 199.4h-4.8" stroke="#555"/><path d="M99.5 137.81h3.5" stroke="#555"/><path d="M457.5 137.81h-3.5" stroke="#555"/></g>
<rect x="114" y="265" width="35" height="28.5" fill="#fff" fill-opacity="0.55"/>
<text x="131.5" y="288.43" font-size="25.5" text-anchor="middle" class="s">0.4</text>
<rect x="172.5" y="272.5" width="50" height="30" fill="#fff" fill-opacity="0.55"/>
<text x="197.5" y="296.68" font-size="25.5" text-anchor="middle" class="s">0.35</text>
<rect x="243.5" y="256.5" width="35" height="29.5" fill="#fff" fill-opacity="0.55"/>
<text x="261" y="280.43" font-size="25.5" text-anchor="middle" class="s">0.3</text>
<rect x="317" y="272.7" width="49" height="28.3" fill="#fff" fill-opacity="0.55"/>
<text x="341.5" y="296.03" font-size="25.5" text-anchor="middle" class="s">0.25</text>
<rect x="109.5" y="399.3" width="49.1" height="27.7" fill="#fff" fill-opacity="0.55"/>
<text x="134.05" y="422.33" font-size="25.5" text-anchor="middle" class="s">0.45</text>
<rect x="468" y="172" width="21.5" height="278.4" fill="url(#acb)" stroke="#d8d2cc" stroke-width="0.8"/>
<text x="499.2" y="423.33" font-size="31">0.25</text>
<text x="499.2" y="378.63" font-size="31">0.30</text>
<text x="499.2" y="333.93" font-size="31">0.35</text>
<text x="499.2" y="289.23" font-size="31">0.40</text>
<text x="499.2" y="244.53" font-size="31">0.45</text>
<text x="499.2" y="199.83" font-size="31">0.50</text>
<g stroke-width="1" fill="none"><path d="M489.5 447.36h3.4" stroke="#555"/><path d="M489.5 438.42h3.4" stroke="#555"/><path d="M489.5 429.48h3.4" stroke="#555"/><path d="M489.5 420.54h3.4" stroke="#555"/><path d="M489.5 411.6h6.4" stroke="#9a9a9a"/><path d="M489.5 402.66h3.4" stroke="#555"/><path d="M489.5 393.72h3.4" stroke="#555"/><path d="M489.5 384.78h3.4" stroke="#555"/><path d="M489.5 375.84h3.4" stroke="#555"/><path d="M489.5 366.9h6.4" stroke="#9a9a9a"/><path d="M489.5 357.96h3.4" stroke="#555"/><path d="M489.5 349.02h3.4" stroke="#555"/><path d="M489.5 340.08h3.4" stroke="#555"/><path d="M489.5 331.14h3.4" stroke="#555"/><path d="M489.5 322.2h6.4" stroke="#9a9a9a"/><path d="M489.5 313.26h3.4" stroke="#555"/><path d="M489.5 304.32h3.4" stroke="#555"/><path d="M489.5 295.38h3.4" stroke="#555"/><path d="M489.5 286.44h3.4" stroke="#555"/><path d="M489.5 277.5h6.4" stroke="#9a9a9a"/><path d="M489.5 268.56h3.4" stroke="#555"/><path d="M489.5 259.62h3.4" stroke="#555"/><path d="M489.5 250.68h3.4" stroke="#555"/><path d="M489.5 241.74h3.4" stroke="#555"/><path d="M489.5 232.8h6.4" stroke="#9a9a9a"/><path d="M489.5 223.86h3.4" stroke="#555"/><path d="M489.5 214.92h3.4" stroke="#555"/><path d="M489.5 205.98h3.4" stroke="#555"/><path d="M489.5 197.04h3.4" stroke="#555"/><path d="M489.5 188.1h6.4" stroke="#9a9a9a"/><path d="M489.5 179.16h3.4" stroke="#555"/></g>
<g shape-rendering="crispEdges"><rect x="709.3" y="126.9" width="339.7" height="6.6" fill="url(#b0)"/><rect x="709.3" y="132.9" width="339.7" height="6.6" fill="url(#b1)"/><rect x="709.3" y="138.9" width="339.7" height="6.6" fill="url(#b2)"/><rect x="709.3" y="144.9" width="339.7" height="6.6" fill="url(#b3)"/><rect x="709.3" y="150.9" width="339.7" height="6.6" fill="url(#b4)"/><rect x="709.3" y="156.9" width="339.7" height="6.6" fill="url(#b5)"/><rect x="709.3" y="162.9" width="339.7" height="6.6" fill="url(#b6)"/><rect x="709.3" y="168.9" width="339.7" height="6.6" fill="url(#b7)"/><rect x="709.3" y="174.9" width="339.7" height="6.6" fill="url(#b8)"/><rect x="709.3" y="180.9" width="339.7" height="6.6" fill="url(#b9)"/><rect x="709.3" y="186.9" width="339.7" height="6.6" fill="url(#b10)"/><rect x="709.3" y="192.9" width="339.7" height="6.6" fill="url(#b11)"/><rect x="709.3" y="198.9" width="339.7" height="6.6" fill="url(#b12)"/><rect x="709.3" y="204.9" width="339.7" height="6.6" fill="url(#b13)"/><rect x="709.3" y="210.9" width="339.7" height="6.6" fill="url(#b14)"/><rect x="709.3" y="216.9" width="339.7" height="6.6" fill="url(#b15)"/><rect x="709.3" y="222.9" width="339.7" height="6.6" fill="url(#b16)"/><rect x="709.3" y="228.9" width="339.7" height="6.6" fill="url(#b17)"/><rect x="709.3" y="234.9" width="339.7" height="6.6" fill="url(#b18)"/><rect x="709.3" y="240.9" width="339.7" height="6.6" fill="url(#b19)"/><rect x="709.3" y="246.9" width="339.7" height="6.6" fill="url(#b20)"/><rect x="709.3" y="252.9" width="339.7" height="6.6" fill="url(#b21)"/><rect x="709.3" y="258.9" width="339.7" height="6.6" fill="url(#b22)"/><rect x="709.3" y="264.9" width="339.7" height="6.6" fill="url(#b23)"/><rect x="709.3" y="270.9" width="339.7" height="6.6" fill="url(#b24)"/><rect x="709.3" y="276.9" width="339.7" height="6.6" fill="url(#b25)"/><rect x="709.3" y="282.9" width="339.7" height="6.6" fill="url(#b26)"/><rect x="709.3" y="288.9" width="339.7" height="6.6" fill="url(#b27)"/><rect x="709.3" y="294.9" width="339.7" height="6.6" fill="url(#b28)"/><rect x="709.3" y="300.9" width="339.7" height="6.6" fill="url(#b29)"/><rect x="709.3" y="306.9" width="339.7" height="6.6" fill="url(#b30)"/><rect x="709.3" y="312.9" width="339.7" height="6.6" fill="url(#b31)"/><rect x="709.3" y="318.9" width="339.7" height="6.6" fill="url(#b32)"/><rect x="709.3" y="324.9" width="339.7" height="6.6" fill="url(#b33)"/><rect x="709.3" y="330.9" width="339.7" height="6.6" fill="url(#b34)"/><rect x="709.3" y="336.9" width="339.7" height="6.6" fill="url(#b35)"/><rect x="709.3" y="342.9" width="339.7" height="6.6" fill="url(#b36)"/><rect x="709.3" y="348.9" width="339.7" height="6.6" fill="url(#b37)"/><rect x="709.3" y="354.9" width="339.7" height="6.6" fill="url(#b38)"/><rect x="709.3" y="360.9" width="339.7" height="6.6" fill="url(#b39)"/><rect x="709.3" y="366.9" width="339.7" height="6.6" fill="url(#b40)"/><rect x="709.3" y="372.9" width="339.7" height="6.6" fill="url(#b41)"/><rect x="709.3" y="378.9" width="339.7" height="6.6" fill="url(#b42)"/><rect x="709.3" y="384.9" width="339.7" height="6.6" fill="url(#b43)"/><rect x="709.3" y="390.9" width="339.7" height="6.6" fill="url(#b44)"/><rect x="709.3" y="396.9" width="339.7" height="6.6" fill="url(#b45)"/><rect x="709.3" y="402.9" width="339.7" height="6.6" fill="url(#b46)"/><rect x="709.3" y="408.9" width="339.7" height="6.6" fill="url(#b47)"/><rect x="709.3" y="414.9" width="339.7" height="6.6" fill="url(#b48)"/><rect x="709.3" y="420.9" width="339.7" height="6.6" fill="url(#b49)"/><rect x="709.3" y="426.9" width="339.7" height="6.6" fill="url(#b50)"/><rect x="709.3" y="432.9" width="339.7" height="6.6" fill="url(#b51)"/><rect x="709.3" y="438.9" width="339.7" height="6.6" fill="url(#b52)"/><rect x="709.3" y="444.9" width="339.7" height="6.6" fill="url(#b53)"/><rect x="709.3" y="450.9" width="339.7" height="6.6" fill="url(#b54)"/><rect x="709.3" y="456.9" width="339.7" height="6.6" fill="url(#b55)"/><rect x="709.3" y="462.9" width="339.7" height="3.6" fill="url(#b56)"/></g>
<path d="M709.4 447.4 L724.7 466.2" fill="none" stroke="#26222e" stroke-opacity="0.62" stroke-width="1.1"/>
<path d="M709.42 280C710.7 282.39 714.51 289.55 717.11 294.32C719.7 299.1 722.33 303.87 724.99 308.65C727.65 313.42 730.34 318.19 733.06 322.97C735.78 327.74 738.54 332.52 741.32 337.29C744.1 342.07 746.91 346.84 749.75 351.62C752.59 356.39 755.46 361.16 758.35 365.94C761.24 370.71 764.16 375.49 767.11 380.26C770.05 385.04 773.02 389.81 776.01 394.58C779 399.36 782.02 404.13 785.05 408.91C788.09 413.68 791.15 418.46 794.23 423.23C797.3 428.01 800.4 432.78 803.52 437.55C806.64 442.33 809.78 447.1 812.93 451.88C816.09 456.65 820.86 463.81 822.45 466.2" fill="none" stroke="#26222e" stroke-opacity="0.62" stroke-width="1.1"/>
<path d="M772.31 127.3C772.58 131.64 773.11 144.68 773.93 153.37C774.74 162.06 775.85 170.75 777.19 179.44C778.53 188.13 780.15 196.82 781.98 205.51C783.81 214.2 785.89 222.89 788.18 231.58C790.46 240.27 792.97 248.96 795.66 257.65C798.36 266.34 801.26 275.03 804.33 283.72C807.4 292.41 810.66 301.09 814.08 309.78C817.5 318.47 821.1 327.16 824.85 335.85C828.6 344.54 832.52 353.23 836.6 361.92C840.68 370.61 844.92 379.3 849.35 387.99C853.77 396.68 858.35 405.37 863.14 414.06C867.94 422.75 872.9 431.44 878.11 440.13C883.33 448.82 891.72 461.86 894.44 466.2" fill="none" stroke="#26222e" stroke-opacity="0.62" stroke-width="1.1"/>
<path d="M842.62 127.3C843.11 131.64 844.64 144.68 845.61 153.37C846.58 162.06 847.39 170.75 848.44 179.44C849.49 188.13 850.56 196.82 851.9 205.51C853.24 214.2 854.73 222.89 856.49 231.58C858.24 240.27 860.22 248.96 862.44 257.65C864.66 266.34 867.14 275.03 869.83 283.72C872.52 292.41 875.46 301.09 878.6 309.78C881.74 318.47 885.11 327.16 888.65 335.85C892.2 344.54 895.95 353.23 899.89 361.92C903.82 370.61 907.93 379.3 912.27 387.99C916.61 396.68 921.11 405.37 925.91 414.06C930.72 422.75 935.69 431.44 941.1 440.13C946.52 448.82 955.52 461.86 958.4 466.2" fill="none" stroke="#26222e" stroke-opacity="0.62" stroke-width="1.1"/>
<path d="M899.49 127.3C899.84 131.64 900.77 144.68 901.6 153.37C902.44 162.06 903.41 170.75 904.48 179.44C905.55 188.13 906.71 196.82 908.03 205.51C909.36 214.2 910.76 222.89 912.43 231.58C914.1 240.27 915.89 248.96 918.03 257.65C920.16 266.34 922.5 275.03 925.25 283.72C928 292.41 931.03 301.09 934.52 309.78C938 318.47 941.86 327.16 946.15 335.85C950.44 344.54 955.17 353.23 960.27 361.92C965.36 370.61 970.93 379.3 976.72 387.99C982.5 396.68 988.74 405.37 994.96 414.06C1001.17 422.75 1007.77 431.44 1013.99 440.13C1020.2 448.82 1029.21 461.86 1032.26 466.2" fill="none" stroke="#26222e" stroke-opacity="0.62" stroke-width="1.1"/>
<path d="M952.46 127.3C952.92 130.7 954.36 140.89 955.24 147.68C956.11 154.48 956.8 161.27 957.68 168.07C958.56 174.86 959.41 181.66 960.51 188.45C961.6 195.25 962.79 202.04 964.25 208.84C965.71 215.63 967.35 222.43 969.26 229.22C971.17 236.02 973.32 242.81 975.72 249.61C978.13 256.4 980.79 263.2 983.67 269.99C986.55 276.79 989.69 283.58 992.99 290.38C996.29 297.17 999.84 303.97 1003.47 310.76C1007.1 317.56 1010.94 324.35 1014.77 331.15C1018.6 337.94 1022.57 344.74 1026.45 351.53C1030.32 358.33 1034.27 365.12 1038.01 371.92C1041.74 378.71 1047.06 388.9 1048.86 392.3" fill="none" stroke="#26222e" stroke-opacity="0.62" stroke-width="1.1"/>
<path d="M1019.7 127.3C1020.53 133.25 1023.03 152.47 1024.7 163C1026.37 173.53 1027.4 180.07 1029.7 190.5C1032 200.93 1035.28 213.68 1038.5 225.6C1041.72 237.52 1047.25 255.93 1049 262" fill="none" stroke="#26222e" stroke-opacity="0.62" stroke-width="1.1"/>
<rect x="701.8" y="120.9" width="353.2" height="352.9" fill="none" stroke="#767676" stroke-width="1"/>
<text x="757.5" y="507.1" font-size="31" text-anchor="middle">1.5</text>
<text x="854.3" y="507.1" font-size="31" text-anchor="middle">2.0</text>
<text x="951.1" y="507.1" font-size="31" text-anchor="middle">2.5</text>
<text x="1047.9" y="507.1" font-size="31" text-anchor="middle">3.0</text>
<text x="715" y="109.5" font-size="31" text-anchor="middle">100</text>
<text x="777" y="109.5" font-size="31" text-anchor="middle">125</text>
<text x="839" y="109.5" font-size="31" text-anchor="middle">150</text>
<text x="901" y="109.5" font-size="31" text-anchor="middle">175</text>
<text x="963" y="109.5" font-size="31" text-anchor="middle">200</text>
<text x="1025" y="109.5" font-size="31" text-anchor="middle">225</text>
<text x="697.3" y="477.78" font-size="31" text-anchor="end">5</text>
<text x="697.3" y="417.03" font-size="31" text-anchor="end">10</text>
<text x="697.3" y="275.98" font-size="31" text-anchor="end">50</text>
<text x="697.3" y="215.23" font-size="31" text-anchor="end">100</text>
<g stroke-width="1" fill="none"><path d="M718.78 473.8v-3" stroke="#6a6a6a"/><path d="M738.14 473.8v-3" stroke="#6a6a6a"/><path d="M757.5 473.8v-5" stroke="#555"/><path d="M776.86 473.8v-3" stroke="#6a6a6a"/><path d="M796.22 473.8v-3" stroke="#6a6a6a"/><path d="M815.58 473.8v-3" stroke="#6a6a6a"/><path d="M834.94 473.8v-3" stroke="#6a6a6a"/><path d="M854.3 473.8v-5" stroke="#555"/><path d="M873.66 473.8v-3" stroke="#6a6a6a"/><path d="M893.02 473.8v-3" stroke="#6a6a6a"/><path d="M912.38 473.8v-3" stroke="#6a6a6a"/><path d="M931.74 473.8v-3" stroke="#6a6a6a"/><path d="M951.1 473.8v-5" stroke="#555"/><path d="M970.46 473.8v-3" stroke="#6a6a6a"/><path d="M989.82 473.8v-3" stroke="#6a6a6a"/><path d="M1009.18 473.8v-3" stroke="#6a6a6a"/><path d="M1028.54 473.8v-3" stroke="#6a6a6a"/><path d="M1047.9 473.8v-5" stroke="#555"/><path d="M715 120.9v5" stroke="#555"/><path d="M727.4 120.9v3" stroke="#6a6a6a"/><path d="M739.8 120.9v3" stroke="#6a6a6a"/><path d="M752.2 120.9v3" stroke="#6a6a6a"/><path d="M764.6 120.9v3" stroke="#6a6a6a"/><path d="M777 120.9v5" stroke="#555"/><path d="M789.4 120.9v3" stroke="#6a6a6a"/><path d="M801.8 120.9v3" stroke="#6a6a6a"/><path d="M814.2 120.9v3" stroke="#6a6a6a"/><path d="M826.6 120.9v3" stroke="#6a6a6a"/><path d="M839 120.9v5" stroke="#555"/><path d="M851.4 120.9v3" stroke="#6a6a6a"/><path d="M863.8 120.9v3" stroke="#6a6a6a"/><path d="M876.2 120.9v3" stroke="#6a6a6a"/><path d="M888.6 120.9v3" stroke="#6a6a6a"/><path d="M901 120.9v5" stroke="#555"/><path d="M913.4 120.9v3" stroke="#6a6a6a"/><path d="M925.8 120.9v3" stroke="#6a6a6a"/><path d="M938.2 120.9v3" stroke="#6a6a6a"/><path d="M950.6 120.9v3" stroke="#6a6a6a"/><path d="M963 120.9v5" stroke="#555"/><path d="M975.4 120.9v3" stroke="#6a6a6a"/><path d="M987.8 120.9v3" stroke="#6a6a6a"/><path d="M1000.2 120.9v3" stroke="#6a6a6a"/><path d="M1012.6 120.9v3" stroke="#6a6a6a"/><path d="M1025 120.9v5" stroke="#555"/><path d="M1037.4 120.9v3" stroke="#6a6a6a"/><path d="M1049.8 120.9v3" stroke="#6a6a6a"/><path d="M701.8 467.05h4.8" stroke="#555"/><path d="M1055 467.05h-4.8" stroke="#555"/><path d="M701.8 451.07h3" stroke="#9c9c9c"/><path d="M1055 451.07h-3" stroke="#9c9c9c"/><path d="M701.8 437.56h3" stroke="#9c9c9c"/><path d="M1055 437.56h-3" stroke="#9c9c9c"/><path d="M701.8 425.86h3" stroke="#9c9c9c"/><path d="M1055 425.86h-3" stroke="#9c9c9c"/><path d="M701.8 415.53h3" stroke="#9c9c9c"/><path d="M1055 415.53h-3" stroke="#9c9c9c"/><path d="M701.8 406.3h4.8" stroke="#555"/><path d="M1055 406.3h-4.8" stroke="#555"/><path d="M701.8 345.55h3.5" stroke="#555"/><path d="M1055 345.55h-3.5" stroke="#555"/><path d="M701.8 310.02h3.5" stroke="#555"/><path d="M1055 310.02h-3.5" stroke="#555"/><path d="M701.8 284.8h3.5" stroke="#555"/><path d="M1055 284.8h-3.5" stroke="#555"/><path d="M701.8 265.25h4.8" stroke="#555"/><path d="M1055 265.25h-4.8" stroke="#555"/><path d="M701.8 249.27h3" stroke="#9c9c9c"/><path d="M1055 249.27h-3" stroke="#9c9c9c"/><path d="M701.8 235.76h3" stroke="#9c9c9c"/><path d="M1055 235.76h-3" stroke="#9c9c9c"/><path d="M701.8 224.06h3" stroke="#9c9c9c"/><path d="M1055 224.06h-3" stroke="#9c9c9c"/><path d="M701.8 213.73h3" stroke="#9c9c9c"/><path d="M1055 213.73h-3" stroke="#9c9c9c"/><path d="M701.8 204.5h4.8" stroke="#555"/><path d="M1055 204.5h-4.8" stroke="#555"/><path d="M701.8 143.75h3.5" stroke="#555"/><path d="M1055 143.75h-3.5" stroke="#555"/></g>
<rect x="743" y="356.4" width="34.8" height="27.1" fill="#fff" fill-opacity="0.55"/>
<text x="760.4" y="379.13" font-size="25.5" text-anchor="middle" class="s">2.5</text>
<rect x="799.7" y="276" width="13.3" height="27" fill="#fff" fill-opacity="0.55"/>
<text x="806.35" y="298.68" font-size="25.5" text-anchor="middle" class="s">3</text>
<rect x="850.5" y="265" width="35" height="27.5" fill="#fff" fill-opacity="0.55"/>
<text x="868" y="287.93" font-size="25.5" text-anchor="middle" class="s">3.5</text>
<rect x="919.8" y="270" width="13.7" height="27" fill="#fff" fill-opacity="0.55"/>
<text x="926.65" y="292.68" font-size="25.5" text-anchor="middle" class="s">4</text>
<rect x="960" y="234.3" width="34.3" height="27.7" fill="#fff" fill-opacity="0.55"/>
<text x="977.15" y="257.33" font-size="25.5" text-anchor="middle" class="s">4.5</text>
<rect x="1024" y="186" width="13.5" height="27" fill="#fff" fill-opacity="0.55"/>
<text x="1030.75" y="208.68" font-size="25.5" text-anchor="middle" class="s">5</text>
<rect x="1071" y="177" width="21" height="275.4" fill="url(#bcb)" stroke="#d8d2cc" stroke-width="0.8"/>
<text x="1101.7" y="457.83" font-size="31">2</text>
<text x="1101.7" y="374.63" font-size="31">3</text>
<text x="1101.7" y="291.43" font-size="31">4</text>
<text x="1101.7" y="208.23" font-size="31">5</text>
<g stroke-width="1" fill="none"><path d="M1092 447.4h6.4" stroke="#9a9a9a"/><path d="M1092 430.76h3.4" stroke="#555"/><path d="M1092 414.12h3.4" stroke="#555"/><path d="M1092 397.48h3.4" stroke="#555"/><path d="M1092 380.84h3.4" stroke="#555"/><path d="M1092 364.2h6.4" stroke="#9a9a9a"/><path d="M1092 347.56h3.4" stroke="#555"/><path d="M1092 330.92h3.4" stroke="#555"/><path d="M1092 314.28h3.4" stroke="#555"/><path d="M1092 297.64h3.4" stroke="#555"/><path d="M1092 281h6.4" stroke="#9a9a9a"/><path d="M1092 264.36h3.4" stroke="#555"/><path d="M1092 247.72h3.4" stroke="#555"/><path d="M1092 231.08h3.4" stroke="#555"/><path d="M1092 214.44h3.4" stroke="#555"/><path d="M1092 197.8h6.4" stroke="#9a9a9a"/><path d="M1092 181.16h3.4" stroke="#555"/></g>
<g shape-rendering="crispEdges"><rect x="699.9" y="696.1" width="344" height="6.6" fill="url(#d0)"/><rect x="699.9" y="702.1" width="344" height="6.6" fill="url(#d1)"/><rect x="699.9" y="708.1" width="344" height="6.6" fill="url(#d2)"/><rect x="699.9" y="714.1" width="344" height="6.6" fill="url(#d3)"/><rect x="699.9" y="720.1" width="344" height="6.6" fill="url(#d4)"/><rect x="699.9" y="726.1" width="344" height="6.6" fill="url(#d5)"/><rect x="699.9" y="732.1" width="344" height="6.6" fill="url(#d6)"/><rect x="699.9" y="738.1" width="344" height="6.6" fill="url(#d7)"/><rect x="699.9" y="744.1" width="344" height="6.6" fill="url(#d8)"/><rect x="699.9" y="750.1" width="344" height="6.6" fill="url(#d9)"/><rect x="699.9" y="756.1" width="344" height="6.6" fill="url(#d10)"/><rect x="699.9" y="762.1" width="344" height="6.6" fill="url(#d11)"/><rect x="699.9" y="768.1" width="344" height="6.6" fill="url(#d12)"/><rect x="699.9" y="774.1" width="344" height="6.6" fill="url(#d13)"/><rect x="699.9" y="780.1" width="344" height="6.6" fill="url(#d14)"/><rect x="699.9" y="786.1" width="344" height="6.6" fill="url(#d15)"/><rect x="699.9" y="792.1" width="344" height="6.6" fill="url(#d16)"/><rect x="699.9" y="798.1" width="344" height="6.6" fill="url(#d17)"/><rect x="699.9" y="804.1" width="344" height="6.6" fill="url(#d18)"/><rect x="699.9" y="810.1" width="344" height="6.6" fill="url(#d19)"/><rect x="699.9" y="816.1" width="344" height="6.6" fill="url(#d20)"/><rect x="699.9" y="822.1" width="344" height="6.6" fill="url(#d21)"/><rect x="699.9" y="828.1" width="344" height="6.6" fill="url(#d22)"/><rect x="699.9" y="834.1" width="344" height="6.6" fill="url(#d23)"/><rect x="699.9" y="840.1" width="344" height="6.6" fill="url(#d24)"/><rect x="699.9" y="846.1" width="344" height="6.6" fill="url(#d25)"/><rect x="699.9" y="852.1" width="344" height="6.6" fill="url(#d26)"/><rect x="699.9" y="858.1" width="344" height="6.6" fill="url(#d27)"/><rect x="699.9" y="864.1" width="344" height="6.6" fill="url(#d28)"/><rect x="699.9" y="870.1" width="344" height="6.6" fill="url(#d29)"/><rect x="699.9" y="876.1" width="344" height="6.6" fill="url(#d30)"/><rect x="699.9" y="882.1" width="344" height="6.6" fill="url(#d31)"/><rect x="699.9" y="888.1" width="344" height="6.6" fill="url(#d32)"/><rect x="699.9" y="894.1" width="344" height="6.6" fill="url(#d33)"/><rect x="699.9" y="900.1" width="344" height="6.6" fill="url(#d34)"/><rect x="699.9" y="906.1" width="344" height="6.6" fill="url(#d35)"/><rect x="699.9" y="912.1" width="344" height="6.6" fill="url(#d36)"/><rect x="699.9" y="918.1" width="344" height="6.6" fill="url(#d37)"/><rect x="699.9" y="924.1" width="344" height="6.6" fill="url(#d38)"/><rect x="699.9" y="930.1" width="344" height="6.6" fill="url(#d39)"/><rect x="699.9" y="936.1" width="344" height="6.6" fill="url(#d40)"/><rect x="699.9" y="942.1" width="344" height="6.6" fill="url(#d41)"/><rect x="699.9" y="948.1" width="344" height="6.6" fill="url(#d42)"/><rect x="699.9" y="954.1" width="344" height="6.6" fill="url(#d43)"/><rect x="699.9" y="960.1" width="344" height="6.6" fill="url(#d44)"/><rect x="699.9" y="966.1" width="344" height="6.6" fill="url(#d45)"/><rect x="699.9" y="972.1" width="344" height="6.6" fill="url(#d46)"/><rect x="699.9" y="978.1" width="344" height="6.6" fill="url(#d47)"/><rect x="699.9" y="984.1" width="344" height="6.6" fill="url(#d48)"/><rect x="699.9" y="990.1" width="344" height="6.6" fill="url(#d49)"/><rect x="699.9" y="996.1" width="344" height="6.6" fill="url(#d50)"/><rect x="699.9" y="1002.1" width="344" height="6.6" fill="url(#d51)"/><rect x="699.9" y="1008.1" width="344" height="6.6" fill="url(#d52)"/><rect x="699.9" y="1014.1" width="344" height="6.6" fill="url(#d53)"/><rect x="699.9" y="1020.1" width="344" height="6.6" fill="url(#d54)"/><rect x="699.9" y="1026.1" width="344" height="6.6" fill="url(#d55)"/><rect x="699.9" y="1032.1" width="344" height="6.6" fill="url(#d56)"/><rect x="699.9" y="1038.1" width="344" height="2.3" fill="url(#d57)"/></g>
<path d="M699.43 905.7C700.83 907.42 705.06 912.57 707.81 916.01C710.57 919.44 713.28 922.88 715.96 926.32C718.64 929.75 721.28 933.19 723.89 936.62C726.5 940.06 729.07 943.49 731.61 946.93C734.15 950.37 736.65 953.8 739.13 957.24C741.61 960.67 744.05 964.11 746.47 967.55C748.89 970.98 751.27 974.42 753.64 977.85C756 981.29 758.33 984.73 760.64 988.16C762.95 991.6 765.24 995.03 767.5 998.47C769.76 1001.91 772 1005.34 774.22 1008.78C776.44 1012.21 778.64 1015.65 780.82 1019.08C783 1022.52 785.16 1025.96 787.31 1029.39C789.46 1032.83 792.63 1037.98 793.7 1039.7" fill="none" stroke="#26222e" stroke-opacity="0.62" stroke-width="1.1"/>
<path d="M725.44 696C726.21 700.41 728.36 713.63 730.05 722.44C731.74 731.25 733.58 740.06 735.58 748.88C737.58 757.69 739.73 766.5 742.06 775.32C744.39 784.13 746.88 792.94 749.55 801.75C752.23 810.57 755.07 819.38 758.12 828.19C761.17 837.01 764.4 845.82 767.84 854.63C771.28 863.44 774.92 872.26 778.76 881.07C782.6 889.88 786.65 898.69 790.89 907.51C795.14 916.32 799.59 925.13 804.21 933.95C808.83 942.76 813.66 951.57 818.61 960.38C823.55 969.2 828.7 978.01 833.89 986.82C839.09 995.64 844.45 1004.45 849.78 1013.26C855.1 1022.07 863.17 1035.29 865.85 1039.7" fill="none" stroke="#26222e" stroke-opacity="0.62" stroke-width="1.1"/>
<path d="M803.66 696C804.29 700.41 806.2 713.63 807.47 722.44C808.75 731.25 809.93 740.06 811.32 748.88C812.72 757.69 814.15 766.5 815.82 775.32C817.49 784.13 819.31 792.94 821.35 801.75C823.39 810.57 825.63 819.38 828.08 828.19C830.54 837.01 833.21 845.82 836.08 854.63C838.94 863.44 842.03 872.26 845.28 881.07C848.54 889.88 852 898.69 855.62 907.51C859.24 916.32 863.04 925.13 867.01 933.95C870.98 942.76 875.11 951.57 879.44 960.38C883.77 969.2 888.25 978.01 893 986.82C897.75 995.64 902.65 1004.45 907.94 1013.26C913.22 1022.07 921.92 1035.29 924.71 1039.7" fill="none" stroke="#26222e" stroke-opacity="0.62" stroke-width="1.1"/>
<path d="M859.3 696C859.91 700.41 862 713.63 863 722.44C864 731.25 864.43 740.06 865.28 748.88C866.13 757.69 866.88 766.5 868.08 775.32C869.28 784.13 870.68 792.94 872.49 801.75C874.3 810.57 876.45 819.38 878.94 828.19C881.43 837.01 884.31 845.82 887.42 854.63C890.54 863.44 894 872.26 897.62 881.07C901.23 889.88 905.11 898.69 909.11 907.51C913.11 916.32 917.27 925.13 921.59 933.95C925.91 942.76 930.31 951.57 935.01 960.38C939.71 969.2 944.46 978.01 949.8 986.82C955.13 995.64 960.55 1004.45 967.01 1013.26C973.47 1022.07 984.96 1035.29 988.55 1039.7" fill="none" stroke="#26222e" stroke-opacity="0.62" stroke-width="1.1"/>
<path d="M906.84 696C907.42 700.31 909.26 713.24 910.32 721.86C911.38 730.48 912.14 739.1 913.18 747.72C914.21 756.34 915.19 764.96 916.5 773.58C917.82 782.21 919.26 790.83 921.05 799.45C922.85 808.07 924.9 816.69 927.3 825.31C929.7 833.93 932.41 842.55 935.47 851.17C938.52 859.79 941.91 868.41 945.62 877.03C949.32 885.65 953.37 894.27 957.69 902.89C962.01 911.51 966.66 920.13 971.56 928.75C976.46 937.37 981.65 945.99 987.08 954.62C992.51 963.24 998.21 971.86 1004.16 980.48C1010.12 989.1 1016.31 997.72 1022.81 1006.34C1029.32 1014.96 1039.8 1027.89 1043.2 1032.2" fill="none" stroke="#26222e" stroke-opacity="0.62" stroke-width="1.1"/>
<path d="M954.51 696C954.94 699.22 956.18 708.87 957.11 715.31C958.03 721.74 958.99 728.18 960.07 734.62C961.15 741.05 962.3 747.49 963.6 753.92C964.9 760.36 966.31 766.79 967.87 773.23C969.44 779.67 971.13 786.1 973 792.54C974.86 798.97 976.88 805.41 979.06 811.85C981.24 818.28 983.58 824.72 986.08 831.15C988.58 837.59 991.25 844.03 994.05 850.46C996.85 856.9 999.82 863.33 1002.89 869.77C1005.96 876.21 1009.19 882.64 1012.48 889.08C1015.76 895.51 1019.19 901.95 1022.62 908.38C1026.05 914.82 1029.59 921.26 1033.08 927.69C1036.57 934.13 1041.8 943.78 1043.54 947" fill="none" stroke="#26222e" stroke-opacity="0.62" stroke-width="1.1"/>
<path d="M1011.4 696C1012.57 703.07 1015.97 725.07 1018.4 738.4C1020.83 751.73 1023.28 764.3 1026 776C1028.72 787.7 1031.78 798.77 1034.7 808.6C1037.62 818.43 1042.03 830.6 1043.5 835" fill="none" stroke="#26222e" stroke-opacity="0.62" stroke-width="1.1"/>
<rect x="692.5" y="689.5" width="357" height="357" fill="none" stroke="#767676" stroke-width="1"/>
<text x="748.5" y="1077" font-size="27.5" text-anchor="middle">1.5</text>
<text x="846.5" y="1077" font-size="27.5" text-anchor="middle">2.0</text>
<text x="944.5" y="1077" font-size="27.5" text-anchor="middle">2.5</text>
<text x="1042.5" y="1077" font-size="27.5" text-anchor="middle">3.0</text>
<text x="705.5" y="679" font-size="27.5" text-anchor="middle">100</text>
<text x="768.25" y="679" font-size="27.5" text-anchor="middle">125</text>
<text x="831" y="679" font-size="27.5" text-anchor="middle">150</text>
<text x="893.75" y="679" font-size="27.5" text-anchor="middle">175</text>
<text x="956.5" y="679" font-size="27.5" text-anchor="middle">200</text>
<text x="1019.25" y="679" font-size="27.5" text-anchor="middle">225</text>
<text x="688" y="1049.12" font-size="27.5" text-anchor="end">5</text>
<text x="688" y="987.78" font-size="27.5" text-anchor="end">10</text>
<text x="688" y="845.32" font-size="27.5" text-anchor="end">50</text>
<text x="688" y="783.98" font-size="27.5" text-anchor="end">100</text>
<g stroke-width="1" fill="none"><path d="M709.3 1046.5v-3" stroke="#6a6a6a"/><path d="M728.9 1046.5v-3" stroke="#6a6a6a"/><path d="M748.5 1046.5v-5" stroke="#555"/><path d="M768.1 1046.5v-3" stroke="#6a6a6a"/><path d="M787.7 1046.5v-3" stroke="#6a6a6a"/><path d="M807.3 1046.5v-3" stroke="#6a6a6a"/><path d="M826.9 1046.5v-3" stroke="#6a6a6a"/><path d="M846.5 1046.5v-5" stroke="#555"/><path d="M866.1 1046.5v-3" stroke="#6a6a6a"/><path d="M885.7 1046.5v-3" stroke="#6a6a6a"/><path d="M905.3 1046.5v-3" stroke="#6a6a6a"/><path d="M924.9 1046.5v-3" stroke="#6a6a6a"/><path d="M944.5 1046.5v-5" stroke="#555"/><path d="M964.1 1046.5v-3" stroke="#6a6a6a"/><path d="M983.7 1046.5v-3" stroke="#6a6a6a"/><path d="M1003.3 1046.5v-3" stroke="#6a6a6a"/><path d="M1022.9 1046.5v-3" stroke="#6a6a6a"/><path d="M1042.5 1046.5v-5" stroke="#555"/><path d="M705.5 689.5v5" stroke="#555"/><path d="M718.05 689.5v3" stroke="#6a6a6a"/><path d="M730.6 689.5v3" stroke="#6a6a6a"/><path d="M743.15 689.5v3" stroke="#6a6a6a"/><path d="M755.7 689.5v3" stroke="#6a6a6a"/><path d="M768.25 689.5v5" stroke="#555"/><path d="M780.8 689.5v3" stroke="#6a6a6a"/><path d="M793.35 689.5v3" stroke="#6a6a6a"/><path d="M805.9 689.5v3" stroke="#6a6a6a"/><path d="M818.45 689.5v3" stroke="#6a6a6a"/><path d="M831 689.5v5" stroke="#555"/><path d="M843.55 689.5v3" stroke="#6a6a6a"/><path d="M856.1 689.5v3" stroke="#6a6a6a"/><path d="M868.65 689.5v3" stroke="#6a6a6a"/><path d="M881.2 689.5v3" stroke="#6a6a6a"/><path d="M893.75 689.5v5" stroke="#555"/><path d="M906.3 689.5v3" stroke="#6a6a6a"/><path d="M918.85 689.5v3" stroke="#6a6a6a"/><path d="M931.4 689.5v3" stroke="#6a6a6a"/><path d="M943.95 689.5v3" stroke="#6a6a6a"/><path d="M956.5 689.5v5" stroke="#555"/><path d="M969.05 689.5v3" stroke="#6a6a6a"/><path d="M981.6 689.5v3" stroke="#6a6a6a"/><path d="M994.15 689.5v3" stroke="#6a6a6a"/><path d="M1006.7 689.5v3" stroke="#6a6a6a"/><path d="M1019.25 689.5v5" stroke="#555"/><path d="M1031.8 689.5v3" stroke="#6a6a6a"/><path d="M1044.35 689.5v3" stroke="#6a6a6a"/><path d="M692.5 1039.55h4.8" stroke="#555"/><path d="M1049.5 1039.55h-4.8" stroke="#555"/><path d="M692.5 1023.41h3" stroke="#9c9c9c"/><path d="M1049.5 1023.41h-3" stroke="#9c9c9c"/><path d="M692.5 1009.77h3" stroke="#9c9c9c"/><path d="M1049.5 1009.77h-3" stroke="#9c9c9c"/><path d="M692.5 997.95h3" stroke="#9c9c9c"/><path d="M1049.5 997.95h-3" stroke="#9c9c9c"/><path d="M692.5 987.53h3" stroke="#9c9c9c"/><path d="M1049.5 987.53h-3" stroke="#9c9c9c"/><path d="M692.5 978.2h4.8" stroke="#555"/><path d="M1049.5 978.2h-4.8" stroke="#555"/><path d="M692.5 916.85h3.5" stroke="#555"/><path d="M1049.5 916.85h-3.5" stroke="#555"/><path d="M692.5 880.96h3.5" stroke="#555"/><path d="M1049.5 880.96h-3.5" stroke="#555"/><path d="M692.5 855.5h3.5" stroke="#555"/><path d="M1049.5 855.5h-3.5" stroke="#555"/><path d="M692.5 835.75h4.8" stroke="#555"/><path d="M1049.5 835.75h-4.8" stroke="#555"/><path d="M692.5 819.61h3" stroke="#9c9c9c"/><path d="M1049.5 819.61h-3" stroke="#9c9c9c"/><path d="M692.5 805.97h3" stroke="#9c9c9c"/><path d="M1049.5 805.97h-3" stroke="#9c9c9c"/><path d="M692.5 794.15h3" stroke="#9c9c9c"/><path d="M1049.5 794.15h-3" stroke="#9c9c9c"/><path d="M692.5 783.73h3" stroke="#9c9c9c"/><path d="M1049.5 783.73h-3" stroke="#9c9c9c"/><path d="M692.5 774.4h4.8" stroke="#555"/><path d="M1049.5 774.4h-4.8" stroke="#555"/><path d="M692.5 713.05h3.5" stroke="#555"/><path d="M1049.5 713.05h-3.5" stroke="#555"/></g>
<rect x="741.5" y="839" width="49" height="25.5" fill="#fff" fill-opacity="0.55"/>
<text x="766" y="860.39" font-size="24" text-anchor="middle" class="s">0.15</text>
<rect x="821.5" y="852" width="34" height="25.5" fill="#fff" fill-opacity="0.55"/>
<text x="838.5" y="873.39" font-size="24" text-anchor="middle" class="s">0.2</text>
<rect x="868" y="851.3" width="47.7" height="26.7" fill="#fff" fill-opacity="0.55"/>
<text x="891.85" y="873.29" font-size="24" text-anchor="middle" class="s">0.25</text>
<rect x="923.2" y="851.3" width="33.8" height="26.7" fill="#fff" fill-opacity="0.55"/>
<text x="940.1" y="873.29" font-size="24" text-anchor="middle" class="s">0.3</text>
<rect x="957.8" y="805.6" width="46.8" height="26.8" fill="#fff" fill-opacity="0.55"/>
<text x="981.2" y="827.64" font-size="24" text-anchor="middle" class="s">0.35</text>
<rect x="1006.4" y="756" width="34.6" height="27" fill="#fff" fill-opacity="0.55"/>
<text x="1023.7" y="778.14" font-size="24" text-anchor="middle" class="s">0.4</text>
<rect x="728.4" y="956.3" width="33.3" height="27" fill="#fff" fill-opacity="0.55"/>
<text x="745.05" y="978.44" font-size="24" text-anchor="middle" class="s">0.1</text>
<rect x="1058.5" y="750" width="21.1" height="270.7" fill="url(#dcb)" stroke="#d8d2cc" stroke-width="0.8"/>
<text x="1088.6" y="996.98" font-size="27.5">0.1</text>
<text x="1088.6" y="924.77" font-size="27.5">0.2</text>
<text x="1088.6" y="852.58" font-size="27.5">0.3</text>
<text x="1088.6" y="780.38" font-size="27.5">0.4</text>
<g stroke-width="1" fill="none"><path d="M1079.6 1017.78h3.4" stroke="#555"/><path d="M1079.6 1003.34h3.4" stroke="#555"/><path d="M1079.6 988.9h6.4" stroke="#9a9a9a"/><path d="M1079.6 974.46h3.4" stroke="#555"/><path d="M1079.6 960.02h3.4" stroke="#555"/><path d="M1079.6 945.58h3.4" stroke="#555"/><path d="M1079.6 931.14h3.4" stroke="#555"/><path d="M1079.6 916.7h6.4" stroke="#9a9a9a"/><path d="M1079.6 902.26h3.4" stroke="#555"/><path d="M1079.6 887.82h3.4" stroke="#555"/><path d="M1079.6 873.38h3.4" stroke="#555"/><path d="M1079.6 858.94h3.4" stroke="#555"/><path d="M1079.6 844.5h6.4" stroke="#9a9a9a"/><path d="M1079.6 830.06h3.4" stroke="#555"/><path d="M1079.6 815.62h3.4" stroke="#555"/><path d="M1079.6 801.18h3.4" stroke="#555"/><path d="M1079.6 786.74h3.4" stroke="#555"/><path d="M1079.6 772.3h6.4" stroke="#9a9a9a"/><path d="M1079.6 757.86h3.4" stroke="#555"/></g>
<text x="279.6" y="58.4" font-size="31" text-anchor="middle"><tspan font-style="italic">V</tspan><tspan font-style="italic" font-size="22.01" dy="6.2">d</tspan><tspan dy="-6.2"> (meV)</tspan></text>
<text x="279.7" y="551.1" font-size="31" text-anchor="middle"><tspan font-style="italic">V</tspan><tspan font-size="22.01" dy="6.2">d</tspan><tspan dy="-6.2">/</tspan><tspan font-style="italic">ħk</tspan><tspan font-style="italic" font-size="22.01" dy="6.2">θ</tspan><tspan font-style="italic" dy="-6.2">v</tspan><tspan font-size="22.01" dy="6.2">F</tspan></text>
<text transform="translate(30.4 293.7) rotate(-90)" font-size="31" text-anchor="middle"><tspan font-style="italic">d</tspan> (nm)</text>
<text x="878.5" y="65" font-size="31" text-anchor="middle"><tspan font-style="italic">V</tspan><tspan font-style="italic" font-size="22.01" dy="6.2">d</tspan><tspan dy="-6.2"> (meV)</tspan></text>
<text x="881.7" y="551.5" font-size="31" text-anchor="middle"><tspan font-style="italic">V</tspan><tspan font-size="22.01" dy="6.2">d</tspan><tspan dy="-6.2">/</tspan><tspan font-style="italic">ħk</tspan><tspan font-style="italic" font-size="22.01" dy="6.2">θ</tspan><tspan font-style="italic" dy="-6.2">v</tspan><tspan font-size="22.01" dy="6.2">F</tspan></text>
<text transform="translate(633.5 297.8) rotate(-90)" font-size="31" text-anchor="middle"><tspan font-style="italic">d</tspan> (nm)</text>
<text x="871.7" y="638" font-size="27.5" text-anchor="middle"><tspan font-style="italic">V</tspan><tspan font-style="italic" font-size="19.52" dy="5.5">d</tspan><tspan dy="-5.5"> (meV)</tspan></text>
<text x="874" y="1117" font-size="27.5" text-anchor="middle"><tspan font-style="italic">V</tspan><tspan font-size="19.52" dy="5.5">d</tspan><tspan dy="-5.5">/</tspan><tspan font-style="italic">ħk</tspan><tspan font-style="italic" font-size="19.52" dy="5.5">θ</tspan><tspan font-style="italic" dy="-5.5">v</tspan><tspan font-size="19.52" dy="5.5">F</tspan></text>
<text transform="translate(629.5 868.7) rotate(-90)" font-size="27.5" text-anchor="middle"><tspan font-style="italic">d</tspan> (nm)</text>
<text transform="translate(2.2 37.6) scale(0.8 1)" font-size="56.2">(</text>
<text transform="translate(45.7 37.6) scale(0.8 1)" font-size="56.2">)</text>
<text x="32.6" y="37.6" font-size="52" text-anchor="middle">a</text>
<text transform="translate(605.4 37.6) scale(0.8 1)" font-size="56.2">(</text>
<text transform="translate(652 37.6) scale(0.8 1)" font-size="56.2">)</text>
<text x="637" y="37.6" font-size="52" text-anchor="middle">b</text>
<text transform="translate(2.2 602.9) scale(0.8 1)" font-size="56.2">(</text>
<text transform="translate(42.6 602.9) scale(0.8 1)" font-size="56.2">)</text>
<text x="30.5" y="602.9" font-size="52" text-anchor="middle">c</text>
<text transform="translate(605.4 600.6) scale(0.8 1)" font-size="56.2">(</text>
<text transform="translate(652 600.6) scale(0.8 1)" font-size="56.2">)</text>
<text x="636.3" y="600.6" font-size="52" text-anchor="middle">d</text>
<text x="475.6" y="141.4" font-size="29.5">Δ</text>
<text x="494.9" y="124.8" font-size="20">(<tspan font-style="italic">j</tspan>)</text>
<text x="494.9" y="149.1" font-size="21"><tspan font-style="italic">ϕcs</tspan>,9</text>
<text x="1060" y="147" font-size="29.5">Δ</text>
<text x="1079.3" y="130.4" font-size="20">(<tspan font-style="italic">j</tspan>)</text>
<text x="1079.3" y="154.7" font-size="21"><tspan font-style="italic">θcs</tspan>,9</text>
<text x="1066.8" y="723.4" font-size="31" font-style="italic">β</text>
<text x="1084.6" y="704.8" font-size="22">(<tspan font-style="italic">j</tspan>)</text>
<text x="1084.6" y="729.5" font-size="22">9</text>
<g id="pc">
<polygon points="388.6,1027.6 516.7,909.6 516,944 388,1073.3" fill="#8a8a8a" stroke="#2b2b2b" stroke-width="0.8" stroke-linejoin="round"/>
<polygon points="388,1073.3 516,944 514,985 386.8,1123" fill="#bdbdbd" stroke="#2b2b2b" stroke-width="0.8" stroke-linejoin="round"/>
<polygon points="8.5,969.3 388.6,1027.6 388,1073.3 11.6,1012.5" fill="#767676" stroke="#2b2b2b" stroke-width="0.8" stroke-linejoin="round"/>
<polygon points="11.6,1012.5 388,1073.3 386.8,1123 14.2,1057.3" fill="#b3b3b3" stroke="#2b2b2b" stroke-width="0.8" stroke-linejoin="round"/>
<polygon points="8.5,969.3 69.3,979.5 11.6,1012.5" fill="#828282"/>
<polygon points="11.6,1012.5 69.3,979.5 124.4,989.8 71.1,1022.7" fill="#6d6d6d"/>
<polyline points="11.6,1012.5 69.3,979.5" fill="none" stroke="#2b2b2b" stroke-width="0.7"/>
<polyline points="14.2,1057.3 124.4,989.8" fill="none" stroke="#2b2b2b" stroke-width="0.7"/>
<polygon points="319,1015.6 388.6,1027.6 388,1073.3" fill="#6e6e6e" fill-opacity="0.85"/>
<polygon points="8.5,969.3 388.6,1027.6 388,1073.3 11.6,1012.5" fill="none" stroke="#2b2b2b" stroke-width="0.8" stroke-linejoin="round"/>
<polygon points="5.1,967.9 388.6,1027.6 518.9,907.6 195.3,868.6" fill="#ffffbe"/>
<polygon points="34,952.81 167.89,948.34 102.69,916.95" fill="#84b6fb"/>
<polygon points="148.19,893.2 266.13,889.68 219.89,871.56 195.3,868.6" fill="#84b6fb"/>
<polygon points="283.61,879.24 266.13,889.68 349.57,887.19" fill="#84b6fb"/>
<polygon points="167.89,948.34 266.13,889.68 397.6,940.87" fill="#84b6fb"/>
<polygon points="108.24,983.96 167.89,948.34 305.73,1014.27" fill="#84b6fb"/>
<polygon points="397.6,940.87 449.69,899.26 518.9,907.6 486.21,937.71" fill="#84b6fb"/>
<polygon points="397.6,940.87 457.11,964.5 407.26,1010.41 305.73,1014.27" fill="#84b6fb"/>
<clipPath id="topclip"><polygon points="5.1,967.9 388.6,1027.6 518.9,907.6 195.3,868.6"/></clipPath><g clip-path="url(#topclip)">
<polygon points="105.18,988.69 287.37,879.09 285.53,876 102.62,984.4" fill="#555555"/>
<polygon points="303.23,1019.47 453.13,898.82 450.88,896.01 300.11,1015.56" fill="#555555"/>
<polygon points="24.73,954.62 495.04,938.86 494.94,935.96 24.63,951.63" fill="#555555"/>
<polygon points="140.03,894.79 358.69,887.41 358.61,885.01 139.94,892.09" fill="#555555"/>
<polygon points="305.78,1015.72 417.4,1011.48 417.29,1008.58 305.67,1012.82" fill="#555555"/>
<polygon points="97.58,916.81 310.49,1019.56 312.48,1015.42 99.4,913.03" fill="#555555"/>
<polygon points="215,871.52 462.66,968.83 464.12,965.1 216.27,868.27" fill="#555555"/>
</g>
<polyline points="8.5,969.3 196.3,871.8 516.7,909.6" fill="none" stroke="#2b2b2b" stroke-width="0.8" stroke-opacity="0.75"/>
<polyline points="8.5,969.3 388.6,1027.6 516.7,909.6" fill="none" stroke="#2b2b2b" stroke-width="0.8"/>
<text transform="translate(189 1027.5) skewY(9.0)" font-size="26" font-weight="bold" text-anchor="middle" fill="#111">Dielectric</text>
<text transform="translate(189.5 1073.5) skewY(9.6)" font-size="26" font-weight="bold" text-anchor="middle" fill="#111">Metal</text>
<polyline points="452.7,966.9 478.7,968.9 516,932.9 516,949.3" fill="none" stroke="#000" stroke-width="4.9" stroke-linejoin="miter" stroke-linecap="round"/>
<polyline points="507.3,960.7 522.7,948" fill="none" stroke="#000" stroke-width="4.7" stroke-linecap="round"/>
<polyline points="510.2,969.3 519.3,960.9" fill="none" stroke="#000" stroke-width="4.7" stroke-linecap="round"/>
<polyline points="512.3,977.1 516,974" fill="none" stroke="#000" stroke-width="4.7" stroke-linecap="round"/>
<polyline points="478,946 478,984" fill="none" stroke="#000" stroke-width="4.9"/>
<polyline points="476.6,1026 476.6,1037.3 452.2,1034.2" fill="none" stroke="#000" stroke-width="4.9" stroke-linecap="round"/>
<polyline points="285.1,880 285.1,855 364,863.2 479.6,875.2 479.6,903" fill="none" stroke="#000" stroke-width="4.9" stroke-linejoin="miter"/>
<path d="M275.8 876.5 Q285 873.5 294.4 876.5 L285.8 940.6 Z" fill="#000"/>
<ellipse cx="366.8" cy="862.5" rx="22.8" ry="23.9" fill="#fff" stroke="#222" stroke-width="0.8"/>
<ellipse cx="364" cy="864.9" rx="22.8" ry="23.9" fill="#aaaaaa" stroke="#222" stroke-width="0.8"/>
<ellipse cx="480.7" cy="923.4" rx="23.6" ry="23.6" fill="#fff" stroke="#222" stroke-width="0.8"/>
<ellipse cx="477" cy="924.3" rx="23.6" ry="23.6" fill="#aaaaaa" stroke="#222" stroke-width="0.8"/>
<ellipse cx="478.9" cy="1004.3" rx="23.4" ry="23.4" fill="#fff" stroke="#222" stroke-width="0.8"/>
<ellipse cx="475.2" cy="1005.2" rx="23.4" ry="23.4" fill="#aaaaaa" stroke="#222" stroke-width="0.8"/>
<text x="362.8" y="875.2" font-size="29.5" text-anchor="middle" font-weight="bold">I</text>
<text x="477" y="920.1" font-size="19" text-anchor="middle" class="s" fill="#111">+</text>
<text x="476" y="947.4" font-size="19" text-anchor="middle" class="s" fill="#111">−</text>
<text x="475" y="1001.6" font-size="19" text-anchor="middle" class="s" fill="#111">+</text>
<text x="474.8" y="1028" font-size="19" text-anchor="middle" class="s" fill="#111">−</text>
<text class="s" x="498" y="898.3" font-size="24.5"><tspan font-style="italic">V</tspan><tspan font-size="16.5" dy="4.6">STM</tspan></text>
<text class="s" x="496" y="1033" font-size="18">2 <tspan font-style="italic">V</tspan><tspan font-style="italic" font-size="12.5" dy="3.5">d</tspan></text>
<polyline points="496.3,1048 530.3,1048" fill="none" stroke="#1a1a1a" stroke-width="1.3"/>
<text x="513.5" y="1073" font-size="18" text-anchor="middle" font-style="italic" class="s">e</text>
<text x="198.5" y="831" font-size="30" font-style="italic">ρ</text>
<text x="215" y="814" font-size="22.3">(<tspan font-style="italic">j</tspan>)</text>
<text x="215" y="838.9" font-size="23">dos, <tspan font-style="italic">m</tspan></text>
<text x="277" y="830.6" font-size="32.5">(<tspan font-style="italic">E</tspan>,<tspan font-style="italic" dx="1.5">T</tspan>)</text>
</g>
</svg>
</body></html>
